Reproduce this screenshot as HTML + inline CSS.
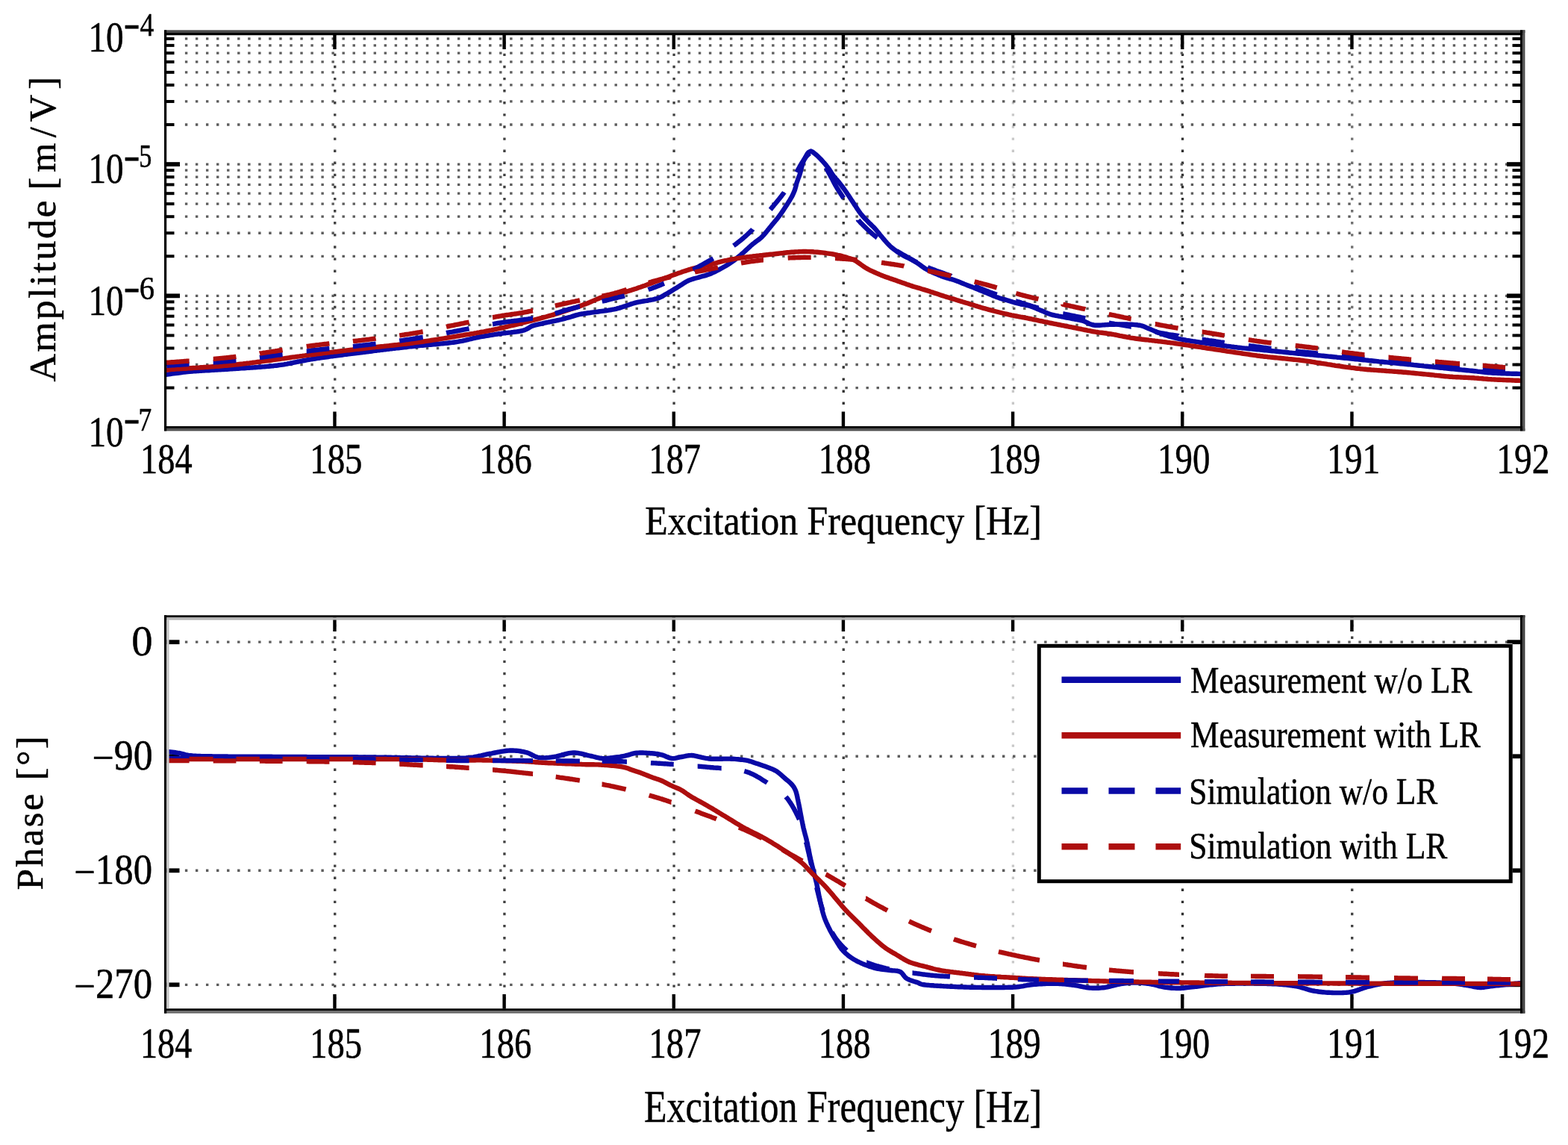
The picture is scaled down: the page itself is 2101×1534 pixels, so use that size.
<!DOCTYPE html><html><head><meta charset="utf-8"><title>Frequency response</title><style>html,body{margin:0;padding:0;background:#fff;width:2101px;height:1534px;overflow:hidden}body{position:relative}text{stroke:#000;stroke-width:0.5px;stroke-linejoin:round}</style></head><body><svg width="2101" height="1534" viewBox="0 0 2101 1534" style="position:absolute;left:0;top:0">
<defs>
<clipPath id="cTop"><rect x="222.8" y="45.8" width="1815.3" height="526.8"/></clipPath>
<clipPath id="cBot"><rect x="222.8" y="827.8" width="1815.3" height="524.9"/></clipPath>
</defs>
<rect x="0" y="0" width="2101" height="1534" fill="#fff"/>
<g>
<line x1="448.76" y1="55.6" x2="448.76" y2="569.6" stroke="#404040" stroke-width="3.3" stroke-dasharray="3.4 12.70"/>
<line x1="448.76" y1="836.4" x2="448.76" y2="1349.7" stroke="#404040" stroke-width="3.3" stroke-dasharray="3.4 12.70"/>
<line x1="675.92" y1="55.6" x2="675.92" y2="569.6" stroke="#404040" stroke-width="3.3" stroke-dasharray="3.4 12.70"/>
<line x1="675.92" y1="836.4" x2="675.92" y2="1349.7" stroke="#404040" stroke-width="3.3" stroke-dasharray="3.4 12.70"/>
<line x1="903.08" y1="55.6" x2="903.08" y2="569.6" stroke="#404040" stroke-width="3.3" stroke-dasharray="3.4 12.70"/>
<line x1="903.08" y1="836.4" x2="903.08" y2="1349.7" stroke="#404040" stroke-width="3.3" stroke-dasharray="3.4 12.70"/>
<line x1="1130.24" y1="55.6" x2="1130.24" y2="569.6" stroke="#303030" stroke-width="3.3" stroke-dasharray="3.4 12.70"/>
<line x1="1130.24" y1="836.4" x2="1130.24" y2="1349.7" stroke="#404040" stroke-width="3.3" stroke-dasharray="3.4 12.70"/>
<line x1="1357.40" y1="55.6" x2="1357.40" y2="569.6" stroke="#c8c8c8" stroke-width="3.3" stroke-dasharray="3.4 12.70"/>
<line x1="1357.40" y1="836.4" x2="1357.40" y2="1349.7" stroke="#c8c8c8" stroke-width="3.3" stroke-dasharray="3.4 12.70"/>
<line x1="1584.56" y1="55.6" x2="1584.56" y2="569.6" stroke="#303030" stroke-width="3.3" stroke-dasharray="3.4 12.70"/>
<line x1="1584.56" y1="836.4" x2="1584.56" y2="1349.7" stroke="#303030" stroke-width="3.3" stroke-dasharray="3.4 12.70"/>
<line x1="1811.72" y1="55.6" x2="1811.72" y2="569.6" stroke="#707070" stroke-width="3.3" stroke-dasharray="3.4 12.70"/>
<line x1="1811.72" y1="836.4" x2="1811.72" y2="1349.7" stroke="#404040" stroke-width="3.3" stroke-dasharray="3.4 12.70"/>
<line x1="247.9" y1="519.55" x2="2035.6" y2="519.55" stroke="#5c5c5c" stroke-width="3.3" stroke-dasharray="3.4 10.64"/>
<line x1="247.9" y1="488.51" x2="2035.6" y2="488.51" stroke="#5c5c5c" stroke-width="3.3" stroke-dasharray="3.4 10.64"/>
<line x1="247.9" y1="466.48" x2="2035.6" y2="466.48" stroke="#5c5c5c" stroke-width="3.3" stroke-dasharray="3.4 10.64"/>
<line x1="247.9" y1="449.40" x2="2035.6" y2="449.40" stroke="#5c5c5c" stroke-width="3.3" stroke-dasharray="3.4 10.64"/>
<line x1="247.9" y1="435.45" x2="2035.6" y2="435.45" stroke="#5c5c5c" stroke-width="3.3" stroke-dasharray="3.4 10.64"/>
<line x1="247.9" y1="423.64" x2="2035.6" y2="423.64" stroke="#5c5c5c" stroke-width="3.3" stroke-dasharray="3.4 10.64"/>
<line x1="247.9" y1="413.42" x2="2035.6" y2="413.42" stroke="#5c5c5c" stroke-width="3.3" stroke-dasharray="3.4 10.64"/>
<line x1="247.9" y1="404.41" x2="2035.6" y2="404.41" stroke="#5c5c5c" stroke-width="3.3" stroke-dasharray="3.4 10.64"/>
<line x1="247.9" y1="396.34" x2="2035.6" y2="396.34" stroke="#5c5c5c" stroke-width="3.3" stroke-dasharray="3.4 10.64"/>
<line x1="247.9" y1="343.28" x2="2035.6" y2="343.28" stroke="#5c5c5c" stroke-width="3.3" stroke-dasharray="3.4 10.64"/>
<line x1="247.9" y1="312.24" x2="2035.6" y2="312.24" stroke="#5c5c5c" stroke-width="3.3" stroke-dasharray="3.4 10.64"/>
<line x1="247.9" y1="290.21" x2="2035.6" y2="290.21" stroke="#5c5c5c" stroke-width="3.3" stroke-dasharray="3.4 10.64"/>
<line x1="247.9" y1="273.13" x2="2035.6" y2="273.13" stroke="#5c5c5c" stroke-width="3.3" stroke-dasharray="3.4 10.64"/>
<line x1="247.9" y1="259.18" x2="2035.6" y2="259.18" stroke="#5c5c5c" stroke-width="3.3" stroke-dasharray="3.4 10.64"/>
<line x1="247.9" y1="247.37" x2="2035.6" y2="247.37" stroke="#5c5c5c" stroke-width="3.3" stroke-dasharray="3.4 10.64"/>
<line x1="247.9" y1="237.15" x2="2035.6" y2="237.15" stroke="#5c5c5c" stroke-width="3.3" stroke-dasharray="3.4 10.64"/>
<line x1="247.9" y1="228.14" x2="2035.6" y2="228.14" stroke="#5c5c5c" stroke-width="3.3" stroke-dasharray="3.4 10.64"/>
<line x1="247.9" y1="220.07" x2="2035.6" y2="220.07" stroke="#5c5c5c" stroke-width="3.3" stroke-dasharray="3.4 10.64"/>
<line x1="247.9" y1="167.01" x2="2035.6" y2="167.01" stroke="#5c5c5c" stroke-width="3.3" stroke-dasharray="3.4 10.64"/>
<line x1="247.9" y1="135.97" x2="2035.6" y2="135.97" stroke="#5c5c5c" stroke-width="3.3" stroke-dasharray="3.4 10.64"/>
<line x1="247.9" y1="113.94" x2="2035.6" y2="113.94" stroke="#5c5c5c" stroke-width="3.3" stroke-dasharray="3.4 10.64"/>
<line x1="247.9" y1="96.86" x2="2035.6" y2="96.86" stroke="#5c5c5c" stroke-width="3.3" stroke-dasharray="3.4 10.64"/>
<line x1="247.9" y1="82.91" x2="2035.6" y2="82.91" stroke="#5c5c5c" stroke-width="3.3" stroke-dasharray="3.4 10.64"/>
<line x1="247.9" y1="71.10" x2="2035.6" y2="71.10" stroke="#5c5c5c" stroke-width="3.3" stroke-dasharray="3.4 10.64"/>
<line x1="247.9" y1="60.88" x2="2035.6" y2="60.88" stroke="#5c5c5c" stroke-width="3.3" stroke-dasharray="3.4 10.64"/>
<line x1="247.9" y1="51.87" x2="2035.6" y2="51.87" stroke="#5c5c5c" stroke-width="3.3" stroke-dasharray="3.4 10.64"/>
<line x1="247.9" y1="860.20" x2="2035.6" y2="860.20" stroke="#5c5c5c" stroke-width="3.3" stroke-dasharray="3.4 10.64"/>
<line x1="247.9" y1="1013.24" x2="2035.6" y2="1013.24" stroke="#5c5c5c" stroke-width="3.3" stroke-dasharray="3.4 10.64"/>
<line x1="247.9" y1="1166.27" x2="2035.6" y2="1166.27" stroke="#5c5c5c" stroke-width="3.3" stroke-dasharray="3.4 10.64"/>
<line x1="247.9" y1="1319.31" x2="2035.6" y2="1319.31" stroke="#5c5c5c" stroke-width="3.3" stroke-dasharray="3.4 10.64"/>
</g>
<rect x="446.26" y="551.50" width="4.40" height="20.00" fill="#000"/>
<rect x="446.26" y="47.00" width="4.40" height="19.00" fill="#000"/>
<rect x="446.26" y="1332.00" width="4.40" height="19.50" fill="#000"/>
<rect x="446.26" y="827.00" width="4.40" height="19.00" fill="#000"/>
<rect x="673.42" y="551.50" width="4.40" height="20.00" fill="#000"/>
<rect x="673.42" y="47.00" width="4.40" height="19.00" fill="#000"/>
<rect x="673.42" y="1332.00" width="4.40" height="19.50" fill="#000"/>
<rect x="673.42" y="827.00" width="4.40" height="19.00" fill="#000"/>
<rect x="900.58" y="551.50" width="4.40" height="20.00" fill="#000"/>
<rect x="900.58" y="47.00" width="4.40" height="19.00" fill="#000"/>
<rect x="900.58" y="1332.00" width="4.40" height="19.50" fill="#000"/>
<rect x="900.58" y="827.00" width="4.40" height="19.00" fill="#000"/>
<rect x="1127.74" y="551.50" width="4.40" height="20.00" fill="#000"/>
<rect x="1127.74" y="47.00" width="4.40" height="19.00" fill="#000"/>
<rect x="1127.74" y="1332.00" width="4.40" height="19.50" fill="#000"/>
<rect x="1127.74" y="827.00" width="4.40" height="19.00" fill="#000"/>
<rect x="1354.90" y="551.50" width="4.40" height="20.00" fill="#000"/>
<rect x="1354.90" y="47.00" width="4.40" height="19.00" fill="#000"/>
<rect x="1354.90" y="1332.00" width="4.40" height="19.50" fill="#000"/>
<rect x="1354.90" y="827.00" width="4.40" height="19.00" fill="#000"/>
<rect x="1582.06" y="551.50" width="4.40" height="20.00" fill="#000"/>
<rect x="1582.06" y="47.00" width="4.40" height="19.00" fill="#000"/>
<rect x="1582.06" y="1332.00" width="4.40" height="19.50" fill="#000"/>
<rect x="1582.06" y="827.00" width="4.40" height="19.00" fill="#000"/>
<rect x="1809.22" y="551.50" width="4.40" height="20.00" fill="#000"/>
<rect x="1809.22" y="47.00" width="4.40" height="19.00" fill="#000"/>
<rect x="1809.22" y="1332.00" width="4.40" height="19.50" fill="#000"/>
<rect x="1809.22" y="827.00" width="4.40" height="19.00" fill="#000"/>
<rect x="223.00" y="517.55" width="10.50" height="4.00" fill="#000"/>
<rect x="2026.50" y="517.55" width="10.50" height="4.00" fill="#000"/>
<rect x="223.00" y="486.51" width="10.50" height="4.00" fill="#000"/>
<rect x="2026.50" y="486.51" width="10.50" height="4.00" fill="#000"/>
<rect x="223.00" y="464.48" width="10.50" height="4.00" fill="#000"/>
<rect x="2026.50" y="464.48" width="10.50" height="4.00" fill="#000"/>
<rect x="223.00" y="447.40" width="10.50" height="4.00" fill="#000"/>
<rect x="2026.50" y="447.40" width="10.50" height="4.00" fill="#000"/>
<rect x="223.00" y="433.45" width="10.50" height="4.00" fill="#000"/>
<rect x="2026.50" y="433.45" width="10.50" height="4.00" fill="#000"/>
<rect x="223.00" y="421.64" width="10.50" height="4.00" fill="#000"/>
<rect x="2026.50" y="421.64" width="10.50" height="4.00" fill="#000"/>
<rect x="223.00" y="411.42" width="10.50" height="4.00" fill="#000"/>
<rect x="2026.50" y="411.42" width="10.50" height="4.00" fill="#000"/>
<rect x="223.00" y="402.41" width="10.50" height="4.00" fill="#000"/>
<rect x="2026.50" y="402.41" width="10.50" height="4.00" fill="#000"/>
<rect x="223.00" y="393.44" width="18.00" height="5.80" fill="#000"/>
<rect x="2019.00" y="393.44" width="18.00" height="5.80" fill="#000"/>
<rect x="223.00" y="341.28" width="10.50" height="4.00" fill="#000"/>
<rect x="2026.50" y="341.28" width="10.50" height="4.00" fill="#000"/>
<rect x="223.00" y="310.24" width="10.50" height="4.00" fill="#000"/>
<rect x="2026.50" y="310.24" width="10.50" height="4.00" fill="#000"/>
<rect x="223.00" y="288.21" width="10.50" height="4.00" fill="#000"/>
<rect x="2026.50" y="288.21" width="10.50" height="4.00" fill="#000"/>
<rect x="223.00" y="271.13" width="10.50" height="4.00" fill="#000"/>
<rect x="2026.50" y="271.13" width="10.50" height="4.00" fill="#000"/>
<rect x="223.00" y="257.18" width="10.50" height="4.00" fill="#000"/>
<rect x="2026.50" y="257.18" width="10.50" height="4.00" fill="#000"/>
<rect x="223.00" y="245.37" width="10.50" height="4.00" fill="#000"/>
<rect x="2026.50" y="245.37" width="10.50" height="4.00" fill="#000"/>
<rect x="223.00" y="235.15" width="10.50" height="4.00" fill="#000"/>
<rect x="2026.50" y="235.15" width="10.50" height="4.00" fill="#000"/>
<rect x="223.00" y="226.14" width="10.50" height="4.00" fill="#000"/>
<rect x="2026.50" y="226.14" width="10.50" height="4.00" fill="#000"/>
<rect x="223.00" y="217.17" width="18.00" height="5.80" fill="#000"/>
<rect x="2019.00" y="217.17" width="18.00" height="5.80" fill="#000"/>
<rect x="223.00" y="165.01" width="10.50" height="4.00" fill="#000"/>
<rect x="2026.50" y="165.01" width="10.50" height="4.00" fill="#000"/>
<rect x="223.00" y="133.97" width="10.50" height="4.00" fill="#000"/>
<rect x="2026.50" y="133.97" width="10.50" height="4.00" fill="#000"/>
<rect x="223.00" y="111.94" width="10.50" height="4.00" fill="#000"/>
<rect x="2026.50" y="111.94" width="10.50" height="4.00" fill="#000"/>
<rect x="223.00" y="94.86" width="10.50" height="4.00" fill="#000"/>
<rect x="2026.50" y="94.86" width="10.50" height="4.00" fill="#000"/>
<rect x="223.00" y="80.91" width="10.50" height="4.00" fill="#000"/>
<rect x="2026.50" y="80.91" width="10.50" height="4.00" fill="#000"/>
<rect x="223.00" y="69.10" width="10.50" height="4.00" fill="#000"/>
<rect x="2026.50" y="69.10" width="10.50" height="4.00" fill="#000"/>
<rect x="223.00" y="58.88" width="10.50" height="4.00" fill="#000"/>
<rect x="2026.50" y="58.88" width="10.50" height="4.00" fill="#000"/>
<rect x="223.00" y="49.87" width="10.50" height="4.00" fill="#000"/>
<rect x="2026.50" y="49.87" width="10.50" height="4.00" fill="#000"/>
<rect x="223.00" y="857.30" width="17.50" height="5.80" fill="#000"/>
<rect x="2019.50" y="857.30" width="17.50" height="5.80" fill="#000"/>
<rect x="223.00" y="1010.34" width="17.50" height="5.80" fill="#000"/>
<rect x="2019.50" y="1010.34" width="17.50" height="5.80" fill="#000"/>
<rect x="223.00" y="1163.37" width="17.50" height="5.80" fill="#000"/>
<rect x="2019.50" y="1163.37" width="17.50" height="5.80" fill="#000"/>
<rect x="223.00" y="1316.41" width="17.50" height="5.80" fill="#000"/>
<rect x="2019.50" y="1316.41" width="17.50" height="5.80" fill="#000"/>
<polyline points="221.3,502.0 222.6,501.8 224.2,501.6 226.2,501.3 228.4,501.0 230.7,500.7 233.1,500.4 235.5,500.1 237.9,499.8 240.0,499.5 241.8,499.3 243.3,499.1 244.6,498.9 245.9,498.7 247.4,498.5 249.1,498.3 251.4,498.0 254.3,497.8 258.0,497.5 259.4,497.4 260.9,497.3 262.4,497.2 264.1,497.1 265.8,497.0 267.6,496.9 269.5,496.8 271.4,496.6 273.4,496.5 275.5,496.4 277.6,496.3 279.7,496.2 281.9,496.0 284.1,495.9 286.3,495.8 288.5,495.6 290.8,495.5 293.0,495.4 295.3,495.3 297.6,495.1 299.8,495.0 302.1,494.8 304.3,494.7 306.5,494.6 308.7,494.4 310.8,494.3 312.9,494.1 315.0,494.0 317.0,493.9 319.1,493.7 321.2,493.6 323.2,493.4 325.3,493.3 327.4,493.2 329.5,493.0 331.6,492.9 333.7,492.8 335.8,492.6 337.9,492.5 340.0,492.4 342.0,492.2 344.1,492.1 346.2,491.9 348.3,491.8 350.3,491.6 352.4,491.4 354.4,491.3 356.4,491.1 358.5,490.9 360.4,490.7 362.4,490.6 364.4,490.4 366.3,490.2 368.2,489.9 370.1,489.7 372.0,489.5 374.2,489.2 376.4,488.9 378.5,488.6 380.5,488.3 382.5,487.9 384.5,487.6 386.4,487.2 388.3,486.9 390.2,486.5 392.1,486.1 393.9,485.7 395.8,485.3 397.7,484.9 399.6,484.5 401.6,484.2 403.5,483.8 405.6,483.4 407.6,483.0 409.8,482.6 412.0,482.2 414.2,481.8 416.6,481.4 419.0,481.0 420.7,480.7 422.5,480.5 424.3,480.2 426.2,479.9 428.1,479.7 430.0,479.4 431.9,479.1 433.9,478.8 435.8,478.6 437.8,478.3 439.9,478.0 441.9,477.7 443.9,477.4 446.0,477.2 448.1,476.9 450.2,476.6 452.3,476.3 454.4,476.1 456.5,475.8 458.7,475.5 460.8,475.2 462.9,474.9 465.1,474.7 467.2,474.4 469.3,474.1 471.4,473.9 473.5,473.6 475.7,473.3 477.7,473.0 479.8,472.8 481.9,472.5 484.0,472.3 486.0,472.0 488.0,471.7 490.1,471.5 492.1,471.2 494.2,471.0 496.3,470.7 498.3,470.5 500.4,470.2 502.5,469.9 504.6,469.7 506.7,469.4 508.7,469.2 510.8,468.9 512.9,468.7 515.0,468.4 517.1,468.2 519.2,467.9 521.2,467.7 523.3,467.4 525.3,467.2 527.4,466.9 529.4,466.7 531.5,466.4 533.5,466.2 535.5,466.0 537.5,465.7 539.5,465.5 541.5,465.3 543.4,465.1 545.4,464.8 547.3,464.6 549.2,464.4 551.1,464.2 553.0,464.0 555.2,463.8 557.4,463.5 559.6,463.3 561.8,463.1 564.0,462.9 566.2,462.7 568.4,462.5 570.5,462.3 572.7,462.1 574.8,461.9 577.0,461.7 579.1,461.5 581.2,461.3 583.2,461.2 585.3,461.0 587.3,460.8 589.3,460.6 591.3,460.4 593.2,460.3 595.1,460.1 597.0,459.9 598.9,459.7 600.7,459.5 602.4,459.3 604.1,459.1 605.8,458.9 607.4,458.7 609.0,458.5 611.8,458.1 614.4,457.7 616.9,457.2 619.2,456.8 621.3,456.3 623.4,455.9 625.4,455.4 627.3,455.0 629.1,454.5 630.9,454.1 632.7,453.6 634.5,453.2 636.3,452.8 638.1,452.4 640.0,452.0 642.2,451.6 644.3,451.2 646.4,450.8 648.4,450.5 650.4,450.1 652.4,449.8 654.4,449.5 656.4,449.1 658.4,448.8 660.4,448.5 662.6,448.2 664.7,447.8 667.0,447.5 668.9,447.2 671.0,447.0 673.1,446.7 675.3,446.4 677.5,446.2 679.8,445.9 682.0,445.6 684.3,445.4 686.6,445.1 688.8,444.8 690.9,444.6 692.9,444.3 694.9,444.0 696.7,443.7 698.4,443.3 700.0,443.0 703.0,442.2 705.2,441.2 707.1,440.2 708.6,439.3 710.2,438.3 711.9,437.3 714.0,436.5 715.9,435.9 717.9,435.3 720.0,434.8 722.2,434.3 724.4,433.8 726.6,433.4 728.8,432.9 730.9,432.4 733.0,432.0 735.2,431.5 737.4,431.1 739.6,430.6 741.8,430.2 743.9,429.8 745.9,429.4 748.0,429.0 750.0,428.5 752.2,428.0 754.4,427.4 756.6,426.8 758.7,426.2 760.8,425.7 762.9,425.1 765.0,424.5 766.9,423.9 768.5,423.4 770.0,422.9 771.6,422.4 773.7,421.8 776.4,421.2 780.0,420.5 781.5,420.3 783.1,420.0 784.8,419.8 786.6,419.5 788.6,419.2 790.6,419.0 792.8,418.7 795.0,418.4 797.2,418.1 799.5,417.8 801.8,417.5 804.1,417.2 806.4,416.9 808.6,416.6 810.9,416.3 813.1,416.0 815.2,415.7 817.3,415.3 819.3,415.0 821.1,414.6 822.9,414.3 825.4,413.8 827.7,413.2 830.0,412.6 832.1,411.9 834.1,411.3 836.1,410.6 838.0,410.0 839.9,409.3 841.8,408.7 843.7,408.0 845.5,407.4 847.4,406.8 849.4,406.2 851.4,405.7 853.5,405.2 855.6,404.7 857.8,404.3 860.0,403.9 862.2,403.5 864.4,403.1 866.6,402.8 868.7,402.4 870.8,402.0 872.9,401.6 874.8,401.3 876.7,400.9 878.4,400.4 880.0,400.0 882.8,399.1 885.1,398.1 887.1,397.1 888.9,396.1 890.6,395.1 892.4,394.0 894.3,392.9 896.1,391.9 897.9,390.9 899.7,389.8 901.4,388.7 903.2,387.6 905.0,386.5 906.8,385.4 908.6,384.3 910.4,383.2 912.2,382.0 914.0,380.9 915.8,379.7 917.6,378.6 919.3,377.5 921.1,376.6 922.9,375.7 924.9,374.9 926.9,374.2 928.9,373.6 930.9,373.0 933.0,372.5 935.0,372.0 937.0,371.4 939.0,370.8 941.1,370.2 943.2,369.7 945.2,369.1 947.3,368.4 949.3,367.8 951.4,367.0 953.4,366.2 955.5,365.2 957.5,364.3 959.6,363.2 961.6,362.2 963.7,361.1 965.7,360.0 967.5,359.0 969.3,358.0 971.1,357.0 972.9,356.0 974.6,354.9 976.4,353.8 978.2,352.6 980.0,351.4 981.6,350.3 983.2,349.1 984.8,347.9 986.4,346.6 987.9,345.3 989.5,344.0 991.1,342.7 992.7,341.4 994.3,340.0 995.9,338.6 997.5,337.2 999.1,335.7 1000.7,334.2 1002.4,332.7 1004.0,331.2 1005.5,329.7 1007.1,328.3 1008.6,327.0 1010.3,325.7 1011.9,324.4 1013.4,323.3 1015.0,322.2 1016.5,321.1 1018.1,319.9 1019.6,318.6 1021.2,317.1 1022.6,315.6 1024.1,314.0 1025.6,312.2 1027.1,310.4 1028.5,308.6 1030.0,306.8 1031.4,305.0 1032.7,303.4 1033.9,301.9 1035.6,299.9 1037.0,298.2 1038.4,296.6 1039.7,295.0 1041.0,293.4 1042.4,291.7 1043.6,290.1 1044.8,288.5 1046.0,286.8 1047.2,285.1 1048.4,283.4 1049.6,281.6 1050.8,279.8 1052.0,277.9 1053.3,276.0 1054.6,274.0 1055.9,271.9 1057.1,270.0 1058.3,268.1 1059.3,266.3 1060.6,264.1 1061.7,262.1 1062.6,260.1 1063.5,258.2 1064.4,256.1 1065.1,254.2 1065.6,252.3 1066.2,250.3 1066.7,248.2 1067.2,246.2 1067.8,244.2 1068.5,242.2 1069.2,240.2 1069.9,238.2 1070.7,236.2 1071.4,234.3 1072.0,232.4 1072.6,230.2 1073.1,228.2 1073.6,226.1 1074.1,224.2 1074.6,222.2 1075.4,219.8 1076.1,217.4 1077.0,215.1 1078.0,212.9 1079.2,210.6 1080.5,208.2 1081.8,206.0 1083.0,204.4 1086.4,202.5 1087.8,203.1 1089.5,204.1 1091.3,205.5 1093.2,207.0 1094.8,208.4 1096.5,210.0 1098.2,211.7 1100.0,213.5 1101.7,215.4 1103.1,217.0 1104.6,218.7 1106.1,220.4 1107.5,222.1 1108.9,223.9 1110.2,225.6 1111.4,227.4 1112.6,229.2 1113.7,231.0 1114.8,232.7 1115.9,234.4 1117.0,236.0 1118.6,238.0 1120.1,239.6 1121.7,241.3 1123.6,243.5 1124.7,244.9 1125.8,246.3 1127.0,247.9 1128.2,249.5 1129.5,251.3 1130.8,253.0 1132.1,254.8 1133.3,256.5 1134.5,258.3 1135.7,260.1 1137.0,261.9 1138.2,263.8 1139.4,265.6 1140.6,267.5 1141.9,269.4 1143.1,271.2 1144.3,273.1 1145.5,274.9 1146.8,276.8 1148.0,278.7 1149.2,280.6 1150.5,282.4 1151.7,284.2 1152.9,285.8 1154.3,287.6 1155.7,289.2 1157.1,290.7 1158.5,292.2 1159.9,293.7 1161.3,295.1 1162.7,296.6 1164.3,298.3 1166.0,299.9 1167.6,301.4 1169.2,303.0 1170.9,304.6 1172.5,306.4 1173.9,308.0 1175.3,309.7 1176.8,311.5 1178.2,313.3 1179.6,315.1 1181.1,316.8 1182.5,318.5 1183.9,320.2 1185.3,321.8 1186.8,323.5 1188.2,325.1 1189.6,326.6 1191.0,328.1 1192.4,329.5 1194.0,331.0 1195.6,332.3 1197.2,333.6 1198.8,334.7 1200.4,335.9 1202.0,337.0 1203.9,338.3 1205.8,339.5 1207.6,340.7 1209.5,341.8 1211.4,342.9 1213.3,343.9 1215.2,344.8 1217.2,345.7 1219.1,346.6 1221.0,347.6 1222.9,348.7 1224.8,349.8 1226.7,350.9 1228.6,352.1 1230.5,353.3 1232.4,354.6 1234.2,356.0 1236.1,357.3 1238.0,358.7 1240.0,360.0 1241.8,361.0 1243.6,362.0 1245.4,362.9 1247.3,363.8 1249.3,364.8 1251.4,365.7 1253.3,366.5 1255.3,367.4 1257.3,368.2 1259.4,369.1 1261.5,369.9 1263.6,370.7 1265.7,371.4 1267.7,372.1 1269.8,372.7 1271.8,373.3 1273.9,373.8 1275.9,374.4 1278.0,375.0 1280.0,375.7 1282.0,376.4 1284.1,377.2 1286.1,378.1 1288.2,378.9 1290.2,379.7 1292.3,380.6 1294.3,381.4 1296.3,382.2 1298.4,383.0 1300.4,383.8 1302.5,384.6 1304.5,385.4 1306.6,386.2 1308.6,387.0 1310.6,387.8 1312.7,388.7 1314.7,389.5 1316.8,390.4 1318.8,391.2 1320.9,392.1 1322.9,392.9 1324.9,393.7 1326.9,394.6 1328.9,395.4 1330.9,396.3 1333.0,397.1 1335.0,397.9 1337.0,398.6 1339.0,399.3 1341.1,399.9 1343.2,400.6 1345.2,401.1 1347.3,401.7 1349.3,402.3 1351.4,402.9 1353.4,403.5 1355.5,404.1 1357.5,404.7 1359.6,405.3 1361.6,405.9 1363.7,406.5 1365.7,407.0 1367.7,407.5 1369.8,407.9 1371.8,408.2 1373.9,408.6 1375.9,409.0 1378.0,409.4 1380.0,410.0 1382.0,410.7 1384.1,411.4 1386.1,412.3 1388.2,413.1 1390.2,414.0 1392.3,414.9 1394.3,415.7 1396.3,416.5 1398.4,417.4 1400.4,418.3 1402.5,419.2 1404.5,420.0 1406.6,420.7 1408.6,421.4 1410.6,422.0 1412.7,422.4 1414.7,422.8 1416.8,423.2 1418.8,423.6 1420.9,423.9 1422.9,424.3 1424.9,424.7 1426.9,425.1 1428.9,425.5 1430.9,425.8 1433.0,426.2 1435.0,426.6 1437.0,427.0 1439.0,427.4 1441.1,427.8 1443.2,428.1 1445.2,428.5 1447.3,429.0 1449.3,429.4 1451.4,430.0 1453.4,430.7 1455.2,431.6 1457.1,432.5 1459.0,433.4 1461.0,434.3 1463.2,435.0 1465.7,435.5 1467.5,435.7 1469.4,435.7 1471.4,435.7 1473.5,435.7 1475.6,435.6 1477.8,435.4 1480.0,435.3 1482.2,435.1 1484.4,435.0 1486.5,434.9 1488.6,434.8 1490.8,434.7 1493.0,434.7 1495.2,434.6 1497.4,434.6 1499.6,434.5 1501.8,434.5 1503.9,434.4 1506.0,434.4 1508.0,434.5 1510.0,434.5 1512.2,434.6 1514.4,434.7 1516.5,434.8 1518.6,434.9 1520.7,435.1 1522.7,435.2 1524.6,435.5 1526.3,435.7 1528.0,436.0 1530.4,436.6 1532.3,437.2 1533.9,437.9 1535.9,438.9 1538.6,440.0 1540.1,440.6 1541.8,441.3 1543.7,442.1 1545.6,442.9 1547.6,443.8 1549.7,444.6 1551.8,445.5 1553.9,446.3 1556.0,447.2 1558.0,447.9 1560.0,448.6 1561.9,449.2 1563.9,449.8 1565.8,450.4 1567.8,451.0 1569.7,451.5 1571.7,452.0 1573.6,452.5 1575.6,453.0 1577.5,453.4 1579.5,453.9 1581.4,454.3 1583.5,454.7 1585.6,455.1 1587.6,455.5 1589.7,455.9 1591.7,456.2 1593.8,456.5 1595.9,456.8 1598.2,457.2 1600.5,457.5 1602.9,457.9 1604.7,458.2 1606.6,458.5 1608.5,458.8 1610.5,459.0 1612.6,459.3 1614.6,459.6 1616.7,459.9 1618.8,460.2 1620.9,460.5 1623.0,460.8 1625.2,461.1 1627.3,461.4 1629.3,461.7 1631.4,462.0 1633.4,462.3 1635.5,462.6 1637.5,462.8 1639.6,463.1 1641.6,463.4 1643.7,463.7 1645.7,463.9 1647.7,464.2 1649.8,464.5 1651.8,464.7 1653.9,465.0 1655.9,465.2 1658.0,465.5 1660.0,465.7 1662.0,465.9 1664.1,466.2 1666.1,466.4 1668.2,466.6 1670.2,466.8 1672.3,467.0 1674.3,467.2 1676.4,467.4 1678.4,467.6 1680.4,467.8 1682.5,468.0 1684.5,468.2 1686.6,468.4 1688.6,468.6 1690.6,468.8 1692.7,469.0 1694.7,469.2 1696.7,469.4 1698.7,469.6 1700.8,469.8 1702.8,470.0 1704.8,470.2 1706.8,470.4 1708.9,470.6 1710.9,470.8 1712.9,471.0 1715.0,471.2 1717.0,471.4 1719.1,471.6 1721.1,471.8 1723.2,472.0 1725.3,472.2 1727.4,472.5 1729.6,472.7 1731.7,472.9 1733.8,473.1 1735.8,473.3 1737.9,473.5 1739.9,473.7 1741.9,473.9 1743.8,474.1 1745.7,474.3 1748.0,474.5 1750.2,474.7 1752.3,474.9 1754.3,475.1 1756.3,475.3 1758.3,475.4 1760.3,475.6 1762.4,475.8 1764.5,476.0 1766.7,476.2 1769.0,476.4 1770.9,476.6 1772.8,476.8 1774.8,477.0 1776.9,477.2 1778.9,477.4 1781.0,477.6 1783.1,477.8 1785.3,478.0 1787.4,478.2 1789.5,478.4 1791.7,478.7 1793.8,478.9 1795.9,479.1 1798.0,479.3 1800.1,479.5 1802.1,479.7 1804.2,479.9 1806.3,480.1 1808.4,480.3 1810.4,480.5 1812.5,480.7 1814.6,481.0 1816.6,481.2 1818.7,481.4 1820.8,481.6 1822.9,481.8 1824.9,482.0 1827.0,482.2 1829.1,482.4 1831.1,482.6 1833.2,482.8 1835.3,483.1 1837.4,483.3 1839.4,483.5 1841.5,483.7 1843.6,483.9 1845.6,484.1 1847.7,484.4 1849.8,484.6 1851.9,484.8 1853.9,485.0 1856.0,485.2 1858.1,485.4 1860.1,485.6 1862.2,485.8 1864.3,486.0 1866.4,486.2 1868.4,486.4 1870.5,486.6 1872.6,486.8 1874.6,487.0 1876.7,487.2 1878.8,487.4 1880.9,487.6 1882.9,487.8 1885.0,488.0 1887.1,488.2 1889.1,488.4 1891.2,488.6 1893.3,488.8 1895.4,489.1 1897.4,489.3 1899.5,489.5 1901.6,489.7 1903.6,489.9 1905.7,490.1 1907.8,490.4 1909.9,490.6 1911.9,490.8 1914.0,491.0 1916.1,491.2 1918.1,491.4 1920.2,491.6 1922.3,491.9 1924.4,492.1 1926.4,492.3 1928.5,492.5 1930.6,492.7 1932.6,492.9 1934.7,493.2 1936.8,493.4 1938.9,493.6 1940.9,493.8 1943.0,494.0 1945.1,494.2 1947.1,494.4 1949.2,494.6 1951.3,494.8 1953.4,495.0 1955.4,495.2 1957.5,495.4 1959.6,495.6 1961.6,495.8 1963.7,496.0 1965.8,496.2 1967.9,496.4 1969.9,496.6 1972.0,496.8 1974.1,497.0 1976.1,497.2 1978.1,497.4 1980.0,497.7 1982.0,497.9 1984.0,498.1 1986.0,498.3 1988.0,498.6 1990.0,498.8 1992.1,499.0 1994.2,499.2 1996.4,499.4 1998.7,499.5 2001.0,499.7 2002.9,499.8 2005.0,499.9 2007.2,500.0 2009.5,500.1 2011.9,500.2 2014.3,500.3 2016.7,500.4 2019.2,500.5 2021.6,500.5 2024.0,500.6 2026.3,500.7 2028.5,500.7 2030.6,500.8 2032.6,500.8 2034.4,500.9 2036.0,500.9 2037.4,501.0 2038.6,501.0" fill="none" stroke="#0a0aa6" stroke-width="6.4" stroke-linejoin="round" stroke-linecap="butt" clip-path="url(#cTop)"/>
<polyline points="221.3,496.5 220.4,496.3 220.3,495.9 229.0,495.0 230.1,494.9 231.3,494.8 232.6,494.7 233.9,494.6 235.3,494.5 236.8,494.4 238.3,494.3 239.9,494.2 241.6,494.1 243.3,494.0 245.0,493.9 246.8,493.8 248.7,493.7 250.6,493.5 252.5,493.4 254.5,493.3 256.5,493.2 258.5,493.0 260.6,492.9 262.7,492.8 264.9,492.6 267.1,492.5 269.3,492.3 271.5,492.2 273.7,492.0 276.0,491.9 278.3,491.7 280.6,491.6 282.9,491.4 285.2,491.2 287.5,491.0 289.8,490.9 292.1,490.7 294.5,490.5 296.8,490.3 299.1,490.1 301.4,489.9 303.7,489.7 306.0,489.5 308.3,489.3 310.5,489.1 312.8,488.8 315.0,488.6 316.8,488.4 318.7,488.2 320.6,488.0 322.5,487.8 324.4,487.6 326.4,487.3 328.4,487.1 330.4,486.8 332.4,486.6 334.4,486.4 336.5,486.1 338.5,485.8 340.6,485.6 342.7,485.3 344.8,485.0 346.9,484.8 349.0,484.5 351.1,484.2 353.2,483.9 355.4,483.6 357.5,483.4 359.6,483.1 361.8,482.8 363.9,482.5 366.1,482.2 368.2,481.9 370.3,481.6 372.4,481.3 374.6,481.0 376.7,480.7 378.8,480.4 380.9,480.2 383.0,479.9 385.0,479.6 387.1,479.3 389.1,479.0 391.2,478.7 393.2,478.4 395.2,478.2 397.2,477.9 399.1,477.6 401.1,477.4 403.0,477.1 404.9,476.9 406.7,476.6 408.6,476.4 410.4,476.1 412.2,475.9 413.9,475.7 415.6,475.4 417.3,475.2 419.0,475.0 421.6,474.7 424.1,474.4 426.5,474.1 428.9,473.8 431.2,473.5 433.4,473.2 435.6,472.9 437.8,472.7 439.9,472.4 442.0,472.1 444.1,471.9 446.1,471.7 448.1,471.4 450.0,471.2 452.0,471.0 453.9,470.7 455.8,470.5 457.6,470.3 459.5,470.1 461.3,469.9 463.2,469.6 465.0,469.4 466.9,469.2 468.7,469.0 470.6,468.8 472.4,468.6 474.3,468.3 476.2,468.1 478.1,467.9 480.0,467.7 482.0,467.5 484.0,467.2 486.0,467.0 488.0,466.8 490.1,466.5 492.1,466.3 494.2,466.1 496.3,465.8 498.3,465.6 500.4,465.4 502.5,465.2 504.6,464.9 506.7,464.7 508.7,464.5 510.8,464.3 512.9,464.1 515.0,463.8 517.1,463.6 519.2,463.4 521.2,463.2 523.3,462.9 525.3,462.7 527.4,462.5 529.4,462.3 531.5,462.1 533.5,461.8 535.5,461.6 537.5,461.4 539.5,461.1 541.5,460.9 543.4,460.7 545.4,460.5 547.3,460.2 549.2,460.0 551.1,459.7 553.0,459.5 555.2,459.2 557.3,458.9 559.5,458.6 561.6,458.4 563.6,458.1 565.7,457.8 567.7,457.5 569.7,457.2 571.7,456.9 573.7,456.6 575.7,456.3 577.7,456.0 579.6,455.7 581.6,455.4 583.5,455.1 585.4,454.8 587.4,454.5 589.3,454.2 591.2,453.9 593.2,453.6 595.1,453.3 597.1,453.0 599.0,452.7 601.0,452.3 603.0,452.0 605.0,451.7 607.0,451.3 609.0,451.0 611.0,450.7 612.9,450.3 614.9,450.0 616.8,449.7 618.8,449.4 620.7,449.1 622.7,448.7 624.6,448.4 626.6,448.1 628.5,447.8 630.5,447.4 632.5,447.1 634.4,446.8 636.4,446.4 638.4,446.1 640.3,445.7 642.3,445.4 644.3,445.0 646.3,444.6 648.3,444.3 650.4,443.9 652.4,443.5 654.4,443.1 656.5,442.7 658.6,442.3 660.7,441.8 662.8,441.4 664.9,441.0 667.0,440.5 668.8,440.1 670.7,439.7 672.6,439.3 674.5,438.8 676.5,438.4 678.4,437.9 680.4,437.5 682.4,437.0 684.4,436.5 686.4,436.0 688.4,435.6 690.5,435.1 692.5,434.6 694.6,434.1 696.6,433.6 698.6,433.0 700.7,432.5 702.7,432.0 704.8,431.5 706.8,431.0 708.8,430.5 710.8,430.0 712.8,429.4 714.7,428.9 716.7,428.4 718.6,427.9 720.5,427.4 722.4,426.9 724.2,426.4 726.1,425.9 727.8,425.4 729.6,424.9 731.3,424.5 733.0,424.0 735.3,423.3 737.6,422.7 739.9,422.0 742.1,421.4 744.3,420.7 746.5,420.1 748.7,419.4 750.8,418.8 752.8,418.1 754.9,417.5 756.9,416.8 758.8,416.2 760.8,415.5 762.7,414.9 764.6,414.3 766.4,413.7 768.2,413.1 770.0,412.5 771.7,411.9 773.5,411.3 775.1,410.7 776.8,410.1 778.4,409.6 780.0,409.0 782.4,408.1 784.7,407.3 786.9,406.4 789.0,405.6 790.9,404.7 792.8,403.9 794.6,403.1 796.3,402.4 798.1,401.6 799.8,400.9 801.5,400.2 803.2,399.5 804.9,398.8 806.7,398.2 808.6,397.6 810.6,397.0 812.7,396.5 814.7,396.0 816.7,395.5 818.7,395.1 820.8,394.7 822.8,394.4 824.8,394.0 826.8,393.6 828.9,393.3 830.9,392.8 832.9,392.4 835.0,391.9 837.0,391.4 838.9,390.9 840.8,390.3 842.7,389.7 844.6,389.2 846.5,388.5 848.5,387.9 850.4,387.3 852.3,386.7 854.2,386.0 856.1,385.3 858.0,384.7 860.0,384.0 861.9,383.3 863.8,382.7 865.7,382.0 867.6,381.3 869.5,380.6 871.4,379.9 873.3,379.2 875.2,378.5 877.1,377.8 879.1,377.1 881.0,376.4 882.9,375.7 884.8,374.9 886.7,374.2 888.6,373.5 890.5,372.8 892.4,372.1 894.3,371.4 896.2,370.7 898.1,370.0 900.0,369.3 901.9,368.6 903.8,367.9 905.7,367.2 907.7,366.5 909.6,365.8 911.5,365.2 913.4,364.5 915.3,363.8 917.2,363.2 919.1,362.6 921.0,362.0 922.9,361.4 924.9,360.8 927.0,360.2 929.0,359.7 931.0,359.2 933.1,358.6 935.1,358.1 937.1,357.6 939.2,357.2 941.2,356.7 943.3,356.2 945.3,355.7 947.3,355.3 949.4,354.8 951.4,354.3 953.4,353.8 955.5,353.3 957.5,352.8 959.6,352.3 961.6,351.7 963.7,351.2 965.7,350.7 967.7,350.2 969.8,349.7 971.8,349.2 973.9,348.8 975.9,348.3 978.0,347.9 980.0,347.5 982.0,347.1 984.1,346.8 986.1,346.4 988.1,346.1 990.1,345.8 992.1,345.6 994.1,345.3 996.1,345.0 998.2,344.8 1000.2,344.5 1002.3,344.3 1004.4,344.0 1006.5,343.8 1008.6,343.5 1010.6,343.2 1012.7,343.0 1014.9,342.7 1017.1,342.5 1019.3,342.2 1021.6,342.0 1023.8,341.7 1026.0,341.5 1028.2,341.3 1030.3,341.0 1032.4,340.8 1034.5,340.6 1036.4,340.4 1038.3,340.2 1040.0,340.0 1042.7,339.7 1045.1,339.4 1047.3,339.2 1049.3,339.0 1051.2,338.7 1053.1,338.5 1055.0,338.3 1057.0,338.2 1059.0,338.0 1061.1,337.8 1063.2,337.7 1065.3,337.5 1067.4,337.4 1069.6,337.3 1071.7,337.1 1073.8,337.1 1075.9,337.0 1078.0,337.0 1080.1,337.0 1082.2,337.1 1084.3,337.1 1086.4,337.2 1088.6,337.3 1090.7,337.5 1092.8,337.6 1094.9,337.8 1097.0,338.0 1099.1,338.2 1101.3,338.4 1103.5,338.7 1105.7,339.0 1107.9,339.3 1110.0,339.6 1112.1,339.9 1114.1,340.2 1116.0,340.5 1118.3,340.9 1120.5,341.3 1122.5,341.8 1124.5,342.2 1126.5,342.7 1128.5,343.2 1130.5,343.8 1132.6,344.4 1134.7,345.0 1136.9,345.7 1139.0,346.4 1141.1,347.1 1143.0,347.8 1144.8,348.6 1147.0,349.8 1148.9,351.1 1150.7,352.4 1152.5,353.7 1154.3,355.0 1156.0,356.2 1157.6,357.3 1159.3,358.4 1161.3,359.6 1163.8,361.0 1165.3,361.8 1167.0,362.6 1168.8,363.4 1170.7,364.3 1172.8,365.2 1174.8,366.1 1176.9,367.0 1178.9,367.9 1180.9,368.7 1182.9,369.5 1184.8,370.2 1186.7,371.0 1188.6,371.6 1190.5,372.3 1192.5,373.0 1194.4,373.6 1196.3,374.2 1198.2,374.9 1200.1,375.5 1202.0,376.2 1203.9,376.9 1205.8,377.6 1207.7,378.2 1209.6,378.9 1211.5,379.6 1213.4,380.3 1215.3,381.0 1217.2,381.6 1219.1,382.3 1221.0,382.9 1223.1,383.6 1225.1,384.2 1227.1,384.8 1229.1,385.4 1231.1,385.9 1233.2,386.5 1235.3,387.2 1237.6,387.9 1240.0,388.6 1241.7,389.2 1243.6,389.7 1245.4,390.3 1247.3,391.0 1249.3,391.6 1251.2,392.3 1253.3,392.9 1255.3,393.6 1257.4,394.3 1259.4,395.0 1261.5,395.7 1263.6,396.3 1265.7,397.0 1267.7,397.6 1269.6,398.2 1271.6,398.8 1273.7,399.5 1275.7,400.1 1277.8,400.7 1279.8,401.3 1281.9,402.0 1284.0,402.6 1286.0,403.2 1288.1,403.8 1290.2,404.5 1292.3,405.1 1294.3,405.7 1296.3,406.3 1298.4,406.9 1300.4,407.6 1302.5,408.2 1304.5,408.8 1306.6,409.5 1308.6,410.1 1310.6,410.7 1312.7,411.3 1314.7,412.0 1316.8,412.6 1318.8,413.2 1320.9,413.7 1322.9,414.3 1324.9,414.9 1327.0,415.4 1329.0,415.9 1331.0,416.5 1333.1,417.0 1335.1,417.5 1337.2,418.0 1339.2,418.5 1341.2,419.0 1343.3,419.5 1345.3,420.0 1347.3,420.5 1349.4,420.9 1351.4,421.4 1353.4,421.8 1355.5,422.3 1357.5,422.7 1359.6,423.1 1361.6,423.5 1363.7,423.9 1365.7,424.3 1367.7,424.7 1369.8,425.0 1371.8,425.4 1373.9,425.8 1375.9,426.2 1378.0,426.6 1380.0,427.0 1382.0,427.4 1384.1,427.8 1386.1,428.3 1388.2,428.7 1390.2,429.1 1392.3,429.6 1394.3,430.0 1396.4,430.4 1398.4,430.9 1400.4,431.3 1402.5,431.7 1404.5,432.2 1406.6,432.6 1408.6,433.0 1410.6,433.4 1412.7,433.8 1414.7,434.2 1416.7,434.6 1418.7,435.0 1420.8,435.4 1422.8,435.8 1424.8,436.2 1426.8,436.6 1428.9,437.0 1430.9,437.4 1432.9,437.8 1435.0,438.2 1437.0,438.6 1439.1,439.0 1441.1,439.4 1443.2,439.9 1445.3,440.3 1447.5,440.7 1449.6,441.2 1451.7,441.6 1453.8,442.0 1455.9,442.4 1457.9,442.9 1459.9,443.2 1461.9,443.6 1463.8,444.0 1465.7,444.3 1468.0,444.7 1470.1,445.0 1472.2,445.3 1474.2,445.6 1476.2,445.8 1478.1,446.0 1480.1,446.3 1482.1,446.5 1484.2,446.8 1486.3,447.1 1488.6,447.5 1490.5,447.8 1492.4,448.2 1494.3,448.5 1496.3,448.9 1498.3,449.3 1500.4,449.8 1502.4,450.2 1504.5,450.6 1506.6,451.0 1508.7,451.4 1510.8,451.8 1512.9,452.2 1514.9,452.6 1517.0,452.9 1519.0,453.2 1521.1,453.5 1523.1,453.8 1525.2,454.0 1527.2,454.3 1529.3,454.5 1531.3,454.8 1533.4,455.0 1535.4,455.2 1537.5,455.4 1539.6,455.7 1541.6,455.9 1543.7,456.2 1545.7,456.4 1547.7,456.7 1549.8,456.9 1551.8,457.2 1553.9,457.4 1555.9,457.6 1558.0,457.9 1560.0,458.1 1562.0,458.4 1564.1,458.7 1566.1,458.9 1568.2,459.2 1570.2,459.4 1572.3,459.7 1574.3,460.0 1576.3,460.3 1578.4,460.6 1580.4,460.9 1582.5,461.2 1584.5,461.5 1586.6,461.8 1588.6,462.1 1590.6,462.4 1592.7,462.7 1594.7,463.1 1596.8,463.4 1598.8,463.7 1600.9,464.0 1602.9,464.3 1604.9,464.6 1607.0,464.9 1609.0,465.2 1611.0,465.5 1613.1,465.8 1615.1,466.1 1617.2,466.5 1619.2,466.8 1621.2,467.1 1623.3,467.4 1625.3,467.7 1627.3,468.0 1629.4,468.3 1631.4,468.6 1633.4,468.9 1635.5,469.2 1637.5,469.5 1639.6,469.8 1641.6,470.1 1643.7,470.5 1645.7,470.8 1647.7,471.1 1649.8,471.4 1651.8,471.7 1653.9,472.0 1655.9,472.3 1658.0,472.6 1660.0,472.9 1662.0,473.2 1664.1,473.5 1666.1,473.8 1668.2,474.1 1670.2,474.4 1672.3,474.7 1674.3,475.0 1676.4,475.3 1678.4,475.6 1680.4,475.9 1682.5,476.2 1684.5,476.5 1686.6,476.7 1688.6,477.0 1690.6,477.2 1692.7,477.5 1694.7,477.7 1696.7,477.9 1698.7,478.2 1700.8,478.4 1702.8,478.6 1704.8,478.8 1706.8,479.0 1708.9,479.2 1710.9,479.4 1712.9,479.6 1715.0,479.8 1717.0,480.0 1719.1,480.2 1721.1,480.4 1723.2,480.6 1725.3,480.8 1727.4,481.1 1729.6,481.3 1731.7,481.5 1733.8,481.7 1735.8,481.9 1737.9,482.1 1739.9,482.3 1741.9,482.5 1743.8,482.8 1745.7,483.0 1748.0,483.3 1750.2,483.6 1752.3,483.9 1754.3,484.2 1756.3,484.5 1758.3,484.8 1760.3,485.1 1762.4,485.5 1764.5,485.8 1766.7,486.1 1769.0,486.5 1770.9,486.8 1772.8,487.1 1774.8,487.4 1776.9,487.7 1778.9,488.1 1781.0,488.4 1783.1,488.7 1785.3,489.1 1787.4,489.4 1789.5,489.8 1791.7,490.1 1793.8,490.4 1795.9,490.7 1798.0,491.0 1800.1,491.3 1802.1,491.6 1804.2,491.9 1806.3,492.1 1808.4,492.4 1810.4,492.7 1812.5,492.9 1814.6,493.2 1816.6,493.5 1818.7,493.7 1820.8,493.9 1822.9,494.2 1824.9,494.4 1827.0,494.6 1829.1,494.8 1831.1,495.0 1833.2,495.2 1835.3,495.3 1837.4,495.5 1839.4,495.6 1841.5,495.8 1843.6,495.9 1845.6,496.1 1847.7,496.2 1849.8,496.4 1851.9,496.5 1853.9,496.6 1856.0,496.8 1858.1,497.0 1860.1,497.1 1862.2,497.3 1864.3,497.4 1866.4,497.6 1868.4,497.7 1870.5,497.9 1872.6,498.0 1874.6,498.2 1876.7,498.3 1878.8,498.5 1880.9,498.7 1882.9,498.8 1885.0,499.0 1887.1,499.2 1889.1,499.4 1891.2,499.6 1893.3,499.8 1895.4,500.0 1897.4,500.2 1899.5,500.4 1901.6,500.6 1903.6,500.8 1905.7,501.0 1907.8,501.2 1909.9,501.4 1911.9,501.6 1914.0,501.8 1916.1,502.0 1918.1,502.2 1920.2,502.4 1922.3,502.7 1924.4,502.9 1926.4,503.1 1928.5,503.3 1930.6,503.5 1932.6,503.8 1934.7,504.0 1936.8,504.2 1938.9,504.4 1940.9,504.5 1943.0,504.7 1945.1,504.8 1947.1,505.0 1949.2,505.1 1951.3,505.2 1953.4,505.3 1955.4,505.4 1957.5,505.5 1959.6,505.6 1961.6,505.7 1963.7,505.8 1965.8,505.9 1967.9,506.0 1969.9,506.1 1972.0,506.2 1974.1,506.3 1976.1,506.5 1978.1,506.6 1980.0,506.8 1982.0,507.0 1984.0,507.1 1986.0,507.3 1988.0,507.5 1990.0,507.6 1992.1,507.8 1994.2,508.0 1996.4,508.1 1998.7,508.3 2001.0,508.4 2002.9,508.5 2005.0,508.6 2007.2,508.7 2009.5,508.8 2011.9,508.9 2014.3,509.0 2016.7,509.1 2019.2,509.2 2021.6,509.3 2024.0,509.4 2026.3,509.5 2028.5,509.6 2030.6,509.7 2032.6,509.8 2034.4,509.8 2036.0,509.9 2037.4,510.0 2038.6,510.0" fill="none" stroke="#ad0e0e" stroke-width="6.4" stroke-linejoin="round" stroke-linecap="butt" clip-path="url(#cTop)"/>
<path d="M223.0,489.9 L223.8,489.8 L224.7,489.8 L225.6,489.7 L226.6,489.6 L227.7,489.6 L228.7,489.5 L229.8,489.4 L231.0,489.3 L232.2,489.3 L233.4,489.2 L234.6,489.1 L235.9,489.0 L237.2,488.9 L238.6,488.9 L239.9,488.8 L241.3,488.7 L242.8,488.6 L244.2,488.5 L245.7,488.4 L247.2,488.3 L248.7,488.2 L250.3,488.1 L251.9,488.0 L253.4,487.9 L253.6,487.9 M285.7,485.6 L286.0,485.6 L287.8,485.4 L289.5,485.3 L291.3,485.2 L293.1,485.0 L294.8,484.9 L296.5,484.7 L298.3,484.6 L300.0,484.4 L301.7,484.3 L303.4,484.1 L305.1,484.0 L306.8,483.8 L308.5,483.6 L310.1,483.5 L311.8,483.3 L313.4,483.2 L315.0,483.0 L316.4,482.9 M347.9,479.0 L348.7,478.9 L350.3,478.7 L351.9,478.5 L353.5,478.3 L355.1,478.1 L356.7,477.9 L358.3,477.7 L359.9,477.4 L361.5,477.2 L363.1,477.0 L364.7,476.8 L366.3,476.6 L367.9,476.3 L369.5,476.1 L371.1,475.9 L372.6,475.7 L374.2,475.5 L375.8,475.3 L377.4,475.0 L378.6,474.9 M410.7,470.5 L411.3,470.5 L412.6,470.3 L413.9,470.1 L415.2,470.0 L416.5,469.8 L417.8,469.6 L419.0,469.5 L420.9,469.3 L422.8,469.1 L424.7,468.8 L426.5,468.6 L428.3,468.4 L430.0,468.2 L431.7,468.1 L433.4,467.9 L435.1,467.7 L436.7,467.5 L438.4,467.4 L439.9,467.2 L441.4,467.1 M472.9,464.1 L472.9,464.1 L474.3,464.0 L475.7,463.8 L477.2,463.7 L478.6,463.5 L480.0,463.4 L481.5,463.2 L483.0,463.0 L484.5,462.9 L486.0,462.7 L487.5,462.5 L489.0,462.4 L490.5,462.2 L492.0,462.0 L493.5,461.8 L495.0,461.6 L496.5,461.5 L498.1,461.3 L499.6,461.1 L501.1,460.9 L502.6,460.7 L503.6,460.6 M535.2,456.6 L535.9,456.5 L537.4,456.3 L538.9,456.1 L540.3,455.9 L541.7,455.6 L543.2,455.4 L544.6,455.2 L546.0,455.0 L547.5,454.8 L548.9,454.6 L550.2,454.4 L551.6,454.2 L553.0,454.0 L554.7,453.7 L556.3,453.5 L557.9,453.2 L559.5,453.0 L561.1,452.7 L562.7,452.5 L564.2,452.2 L565.8,451.9 L566.7,451.8 M598.0,446.1 L598.4,446.0 L599.9,445.7 L601.4,445.4 L602.9,445.1 L604.4,444.8 L605.9,444.6 L607.5,444.3 L609.0,444.0 L610.5,443.7 L612.0,443.5 L613.5,443.2 L615.0,442.9 L616.5,442.6 L618.1,442.3 L619.6,442.0 L621.2,441.7 L622.8,441.4 L624.3,441.1 L625.9,440.8 L627.5,440.5 L628.6,440.3 M660.0,434.2 L660.8,434.1 L662.1,433.9 L663.4,433.6 L664.6,433.4 L665.8,433.2 L667.0,433.0 L669.0,432.7 L670.9,432.4 L672.8,432.1 L674.5,431.8 L676.2,431.6 L677.8,431.3 L679.3,431.1 L680.8,430.9 L682.3,430.7 L683.7,430.6 L685.1,430.4 L686.4,430.2 L687.7,430.1 L689.1,429.9 L690.4,429.8 L691.7,429.6 L693.0,429.5 L694.3,429.3 L695.7,429.1 L697.1,428.9 L698.5,428.7 L700.0,428.5 L701.5,428.3 L703.0,428.0 L704.5,427.8 L706.1,427.6 L707.6,427.4 L709.2,427.1 L710.7,426.9 L712.3,426.7 L713.8,426.4 L714.0,426.4 M743.8,420.0 L745.2,419.6 L746.7,419.1 L748.1,418.7 L749.6,418.2 L751.0,417.7 L752.4,417.3 L753.9,416.8 L755.4,416.3 L756.9,415.9 L758.4,415.4 L760.0,415.0 L761.4,414.6 L762.9,414.2 L764.3,413.8 L765.8,413.5 L767.2,413.1 L768.7,412.7 L770.2,412.3 L771.7,412.0 L773.2,411.6 L774.7,411.2 L776.2,410.8 L777.0,410.7 M806.7,403.7 L808.0,403.4 L809.6,403.1 L811.1,402.7 L812.7,402.3 L814.4,401.9 L816.2,401.5 L818.0,401.0 L820.0,400.5 L822.0,400.0 L823.2,399.7 L824.3,399.4 L825.5,399.1 L826.8,398.8 L828.0,398.5 L829.3,398.2 L830.6,397.9 L831.9,397.6 L833.2,397.3 L834.6,397.0 L835.9,396.7 L837.0,396.4 M868.6,388.0 L869.1,387.8 L870.7,387.3 L872.3,386.7 L873.8,386.2 L875.4,385.6 L877.0,385.0 L878.3,384.5 L879.5,384.0 L880.8,383.5 L882.1,383.0 L883.4,382.5 L884.7,381.9 L886.0,381.4 L887.4,380.8 L888.7,380.2 L890.0,379.7 M928.6,361.2 L929.0,361.0 L930.4,360.3 L931.7,359.6 L933.0,358.9 L934.3,358.2 L935.6,357.5 L936.9,356.8 L938.2,356.1 L939.5,355.4 L940.8,354.7 L942.0,354.0 L943.4,353.2 L944.8,352.4 L946.2,351.7 L947.6,350.9 L949.0,350.1 L950.4,349.3 L951.7,348.6 L953.1,347.8 L954.4,347.0 L955.7,346.3 M982.9,329.2 L983.9,328.5 L985.2,327.6 L986.4,326.7 L987.6,325.7 L988.8,324.8 L990.0,323.9 L991.2,322.9 L992.4,322.0 L993.6,321.0 L994.8,320.0 L996.0,319.0 L997.1,318.0 L998.2,317.1 L999.4,316.1 L1000.5,315.0 L1001.6,314.0 L1002.7,312.9 L1003.9,311.8 L1005.0,310.7 L1006.1,309.6 L1007.3,308.5 L1008.4,307.4 L1008.6,307.1 M1032.2,280.8 L1032.8,280.1 L1033.7,279.0 L1034.6,277.9 L1035.5,276.8 L1036.4,275.8 L1037.2,274.7 L1038.1,273.7 L1038.9,272.7 L1039.7,271.8 L1040.5,270.8 L1041.3,269.9 L1042.0,269.0 L1043.4,267.3 L1044.7,265.7 L1046.0,264.1 L1047.1,262.6 L1048.2,261.1 L1049.3,259.7 L1050.3,258.4 L1050.8,257.6 M1067.4,230.8 L1068.0,229.7 L1068.8,228.4 L1069.5,227.1 L1070.1,225.8 L1070.8,224.6 L1071.5,223.4 L1072.1,222.2 L1072.7,221.1 L1073.4,220.0 L1074.0,219.0 L1075.1,217.3 L1076.1,215.7 L1077.0,214.3 L1077.9,213.0 L1078.8,211.8 L1079.6,210.7 L1080.4,209.7 L1081.2,208.8 L1082.0,208.0 L1083.6,206.4 L1085.1,205.3 L1085.3,205.2 M1106.9,224.8 L1107.1,225.3 L1107.9,226.7 L1108.7,228.2 L1109.5,229.7 L1110.3,231.2 L1111.1,232.6 L1111.8,233.9 M1111.8,233.9 L1111.9,234.1 L1112.6,235.4 L1113.3,236.8 L1114.0,238.0 L1114.9,239.6 L1115.7,241.1 L1116.4,242.6 L1117.1,243.9 L1117.8,245.2 L1118.5,246.6 L1119.2,247.9 L1120.1,249.4 L1121.0,251.0 L1121.7,252.2 L1122.4,253.3 L1123.2,254.5 L1124.0,255.8 L1124.8,257.0 L1125.6,258.3 L1126.5,259.6 L1127.4,260.9 L1128.3,262.3 L1129.2,263.7 L1130.1,265.1 L1130.4,265.5 M1150.0,294.8 L1150.0,294.9 L1151.1,296.1 L1152.2,297.2 L1153.2,298.4 L1154.3,299.5 L1155.4,300.6 L1156.5,301.7 L1157.6,302.8 L1158.7,303.9 L1159.8,304.9 L1160.9,306.0 L1161.9,307.0 L1163.0,308.0 L1164.2,309.1 L1165.4,310.2 L1166.6,311.3 L1167.8,312.3 L1169.0,313.4 L1170.2,314.4 L1171.4,315.4 L1172.6,316.3 L1173.9,317.3 L1175.1,318.3 L1175.4,318.5 M1201.5,336.2 L1201.8,336.4 L1203.0,337.1 L1204.2,337.9 L1205.5,338.6 L1206.7,339.3 L1207.9,340.0 L1209.2,340.8 L1210.6,341.5 L1212.0,342.3 L1213.4,343.1 L1215.0,344.0 L1216.2,344.6 L1217.3,345.3 L1218.5,346.0 L1219.7,346.6 L1220.9,347.3 L1222.2,348.0 L1223.4,348.7 L1224.7,349.5 L1226.1,350.2 L1227.4,350.9 L1228.8,351.7 L1228.9,351.7 M1242.9,358.2 L1243.6,358.5 L1244.9,359.0 L1246.2,359.5 L1247.6,360.0 L1248.9,360.6 L1250.3,361.1 L1251.7,361.6 L1253.2,362.1 L1254.6,362.7 L1256.1,363.2 L1257.6,363.7 L1259.1,364.2 L1260.6,364.8 L1262.1,365.3 L1263.6,365.9 L1265.1,366.4 L1266.6,367.0 L1268.1,367.5 L1269.6,368.1 L1271.2,368.6 L1272.7,369.2 L1274.2,369.7 L1274.3,369.8 M1305.7,383.1 L1305.7,383.1 L1307.1,383.7 L1308.6,384.3 L1310.0,384.9 L1311.4,385.5 L1312.9,386.1 L1314.3,386.7 L1315.7,387.3 L1317.1,387.9 L1318.6,388.4 L1320.0,389.0 L1321.4,389.6 L1322.9,390.1 L1324.3,390.6 L1325.7,391.2 L1327.1,391.7 L1328.6,392.2 L1330.0,392.8 L1331.4,393.3 L1332.9,393.8 L1334.3,394.3 L1335.7,394.8 M1361.4,403.5 L1361.5,403.5 L1363.0,404.0 L1364.4,404.4 L1365.9,404.9 L1367.4,405.4 L1368.9,405.9 L1370.4,406.3 L1371.9,406.8 L1373.3,407.3 L1374.8,407.7 L1376.3,408.2 L1377.8,408.7 L1379.3,409.1 L1380.7,409.6 L1382.2,410.0 L1383.7,410.5 L1385.2,410.9 L1386.7,411.3 L1388.1,411.8 L1389.6,412.2 L1391.1,412.6 L1391.4,412.7 M1424.3,420.4 L1425.2,420.5 L1426.7,420.8 L1428.1,421.1 L1429.6,421.4 L1431.1,421.7 L1432.6,422.0 L1434.1,422.3 L1435.6,422.6 L1437.0,422.9 L1438.5,423.2 L1440.0,423.5 L1441.5,423.8 L1443.0,424.1 L1444.4,424.4 L1445.9,424.7 L1447.4,425.0 L1448.9,425.3 L1450.4,425.6 L1451.9,425.9 L1453.3,426.2 L1454.3,426.4 M1485.7,432.5 L1485.9,432.6 L1487.4,432.8 L1488.9,433.1 L1490.4,433.3 L1491.9,433.6 L1493.3,433.9 L1494.8,434.1 L1496.3,434.3 L1497.8,434.6 L1499.3,434.8 L1500.7,435.1 L1502.2,435.3 L1503.7,435.6 L1505.2,435.8 L1506.7,436.1 L1508.1,436.3 L1509.6,436.6 L1511.1,436.9 L1512.6,437.1 L1514.1,437.4 L1515.6,437.7 L1515.7,437.7 M1547.9,444.6 L1548.1,444.6 L1549.6,444.9 L1551.1,445.3 L1552.6,445.6 L1554.1,445.9 L1555.6,446.2 L1557.0,446.4 L1558.5,446.7 L1560.0,447.0 L1561.5,447.3 L1563.1,447.5 L1564.6,447.8 L1566.2,448.1 L1567.7,448.3 L1569.2,448.6 L1570.8,448.8 L1572.3,449.0 L1573.8,449.3 L1575.4,449.5 L1576.9,449.7 L1578.5,449.9 L1578.6,450.0 M1610.7,454.6 L1610.8,454.6 L1612.3,454.9 L1613.8,455.1 L1615.4,455.4 L1616.9,455.6 L1618.5,455.8 L1620.0,456.1 L1621.5,456.3 L1623.1,456.5 L1624.6,456.8 L1626.2,457.0 L1627.7,457.2 L1629.2,457.5 L1630.8,457.7 L1632.3,457.9 L1633.8,458.1 L1635.4,458.4 L1636.9,458.6 L1638.5,458.8 L1640.0,459.0 L1640.7,459.1 M1672.9,463.1 L1673.8,463.2 L1675.4,463.4 L1676.9,463.6 L1678.5,463.8 L1680.0,464.0 L1681.5,464.2 L1683.1,464.4 L1684.6,464.6 L1686.2,464.8 L1687.7,465.0 L1689.2,465.2 L1690.8,465.4 L1692.3,465.6 L1693.8,465.8 L1695.4,466.0 L1696.9,466.2 L1698.5,466.4 L1700.0,466.6 L1701.5,466.8 L1703.1,467.0 L1703.6,467.0 M1735.7,470.6 L1736.9,470.8 L1738.5,470.9 L1740.0,471.1 L1741.5,471.2 L1743.1,471.4 L1744.6,471.5 L1746.2,471.7 L1747.7,471.8 L1749.2,471.9 L1750.8,472.1 L1752.3,472.2 L1753.8,472.4 L1755.4,472.5 L1756.9,472.7 L1758.5,472.8 L1760.0,473.0 L1761.5,473.2 L1763.1,473.3 L1764.6,473.5 L1766.0,473.6 M1798.0,476.8 L1798.5,476.8 L1800.0,477.0 L1801.5,477.2 L1803.1,477.3 L1804.6,477.5 L1806.2,477.6 L1807.7,477.8 L1809.2,477.9 L1810.8,478.1 L1812.3,478.2 L1813.8,478.4 L1815.4,478.5 L1816.9,478.7 L1818.5,478.8 L1820.0,479.0 L1821.5,479.2 L1823.1,479.3 L1824.6,479.5 L1826.2,479.6 L1827.7,479.8 L1828.5,479.8 M1860.5,483.1 L1861.5,483.2 L1863.1,483.4 L1864.6,483.5 L1866.2,483.7 L1867.7,483.8 L1869.2,484.0 L1870.8,484.1 L1872.3,484.3 L1873.8,484.4 L1875.4,484.6 L1876.9,484.7 L1878.5,484.9 L1880.0,485.0 L1881.5,485.1 L1883.1,485.3 L1884.6,485.4 L1886.2,485.5 L1887.7,485.6 L1889.2,485.7 L1890.8,485.9 L1891.0,485.9 M1923.0,488.3 L1923.1,488.3 L1924.6,488.4 L1926.2,488.6 L1927.7,488.7 L1929.2,488.9 L1930.8,489.0 L1932.3,489.2 L1933.8,489.3 L1935.4,489.5 L1936.9,489.7 L1938.5,489.8 L1940.0,490.0 L1941.5,490.2 L1943.1,490.3 L1944.6,490.5 L1946.2,490.7 L1947.7,490.8 L1949.2,491.0 L1950.8,491.1 L1952.3,491.3 L1953.8,491.4 L1955.4,491.6 L1956.0,491.6 M1986.7,494.1 L1987.8,494.2 L1989.3,494.3 L1990.9,494.4 L1992.4,494.5 L1993.9,494.6 L1995.4,494.7 L1997.0,494.8 L1998.5,494.9 L2000.0,495.0 L2001.6,495.1 L2003.2,495.2 L2004.9,495.3 L2006.7,495.4 L2008.4,495.5 L2010.2,495.6 L2012.0,495.7 L2013.8,495.8 L2015.6,495.9 L2017.0,495.9" fill="none" stroke="#0a0aa6" stroke-width="6.4" stroke-linejoin="round" stroke-linecap="butt" clip-path="url(#cTop)"/>
<path d="M223.0,485.9 L223.8,485.8 L224.7,485.7 L225.6,485.6 L226.6,485.6 L227.7,485.5 L228.7,485.4 L229.8,485.3 L231.0,485.2 L232.2,485.2 L233.4,485.1 L234.6,485.0 L235.9,484.9 L237.2,484.8 L238.6,484.7 L239.9,484.6 L241.3,484.5 L242.8,484.4 L244.2,484.3 L245.7,484.1 L247.2,484.0 L248.7,483.9 L250.3,483.8 L251.9,483.7 L253.4,483.6 L253.6,483.6 M285.7,480.9 L286.0,480.9 L287.8,480.8 L289.5,480.6 L291.3,480.4 L293.1,480.3 L294.8,480.1 L296.5,479.9 L298.3,479.8 L300.0,479.6 L301.7,479.4 L303.4,479.3 L305.1,479.1 L306.8,478.9 L308.5,478.7 L310.1,478.5 L311.8,478.4 L313.4,478.2 L315.0,478.0 L316.4,477.8 M347.9,473.6 L348.2,473.5 L349.7,473.3 L351.3,473.1 L352.9,472.8 L354.5,472.6 L356.1,472.4 L357.6,472.1 L359.2,471.9 L360.8,471.7 L362.4,471.4 L363.9,471.2 L365.5,470.9 L367.1,470.7 L368.7,470.5 L370.2,470.2 L371.8,470.0 L373.4,469.7 L374.9,469.5 L376.5,469.3 L378.0,469.0 L378.6,468.9 M410.7,464.1 L411.4,464.0 L412.7,463.9 L414.0,463.7 L415.3,463.5 L416.5,463.3 L417.8,463.2 L419.0,463.0 L420.9,462.8 L422.8,462.5 L424.7,462.3 L426.5,462.1 L428.3,461.8 L430.0,461.6 L431.7,461.4 L433.4,461.2 L435.1,461.0 L436.7,460.9 L438.4,460.7 L439.9,460.5 L441.4,460.3 M472.9,457.2 L472.9,457.2 L474.3,457.0 L475.7,456.9 L477.2,456.7 L478.6,456.6 L480.0,456.4 L481.5,456.2 L483.0,456.1 L484.5,455.9 L486.0,455.7 L487.5,455.5 L489.0,455.3 L490.5,455.2 L492.0,455.0 L493.5,454.8 L495.0,454.6 L496.5,454.4 L498.1,454.2 L499.6,454.0 L501.1,453.9 L502.6,453.7 L503.6,453.5 M535.2,449.4 L535.9,449.3 L537.4,449.1 L538.9,448.9 L540.3,448.7 L541.7,448.5 L543.2,448.2 L544.6,448.0 L546.0,447.8 L547.5,447.6 L548.9,447.4 L550.2,447.1 L551.6,446.9 L553.0,446.7 L554.6,446.4 L556.2,446.2 L557.8,445.9 L559.3,445.6 L560.9,445.3 L562.4,445.1 L564.0,444.8 L565.5,444.5 L566.7,444.3 M598.0,437.8 L598.7,437.6 L600.2,437.3 L601.6,437.0 L603.1,436.7 L604.5,436.4 L606.0,436.1 L607.5,435.8 L609.0,435.5 L610.5,435.2 L612.0,434.9 L613.5,434.6 L615.0,434.3 L616.5,434.0 L618.1,433.7 L619.6,433.4 L621.2,433.1 L622.8,432.7 L624.3,432.4 L625.9,432.1 L627.5,431.8 L628.6,431.6 M660.0,425.3 L660.8,425.2 L662.1,424.9 L663.4,424.7 L664.6,424.4 L665.8,424.2 L667.0,424.0 L669.0,423.6 L670.9,423.3 L672.8,423.0 L674.5,422.7 L676.2,422.5 L677.8,422.2 L679.3,422.0 L680.8,421.8 L682.3,421.6 L683.7,421.4 L685.1,421.2 L686.4,421.0 L687.7,420.9 L689.1,420.7 L690.4,420.5 L691.7,420.3 L693.0,420.1 L694.3,419.9 L695.7,419.7 L697.1,419.5 L698.5,419.3 L700.0,419.0 L701.5,418.7 L703.0,418.4 L704.5,418.1 L706.1,417.8 L707.6,417.5 L709.2,417.2 L710.7,416.9 L712.3,416.6 L713.8,416.2 L714.0,416.2 M743.8,409.6 L745.2,409.3 L746.7,409.0 L748.1,408.6 L749.6,408.3 L751.0,408.0 L752.4,407.7 L753.9,407.3 L755.4,407.0 L756.9,406.7 L758.4,406.3 L760.0,406.0 L761.4,405.7 L762.9,405.4 L764.3,405.1 L765.8,404.7 L767.2,404.4 L768.7,404.1 L770.2,403.8 L771.6,403.4 L773.1,403.1 L774.6,402.8 L776.1,402.5 L777.0,402.3 M806.7,396.6 L807.3,396.5 L808.7,396.3 L810.3,396.0 L811.8,395.7 L813.5,395.3 L815.2,394.9 L817.0,394.5 L818.9,394.0 L820.9,393.5 L823.0,393.0 L824.1,392.7 L825.3,392.4 L826.5,392.1 L827.7,391.7 L828.9,391.3 L830.2,391.0 L831.4,390.6 L832.7,390.2 L834.1,389.8 L835.4,389.4 L836.8,388.9 L838.2,388.5 L839.6,388.1 L840.0,387.9 M869.0,378.8 L870.0,378.5 L871.5,378.0 L873.1,377.6 L874.6,377.1 L876.1,376.7 L877.6,376.3 L879.1,375.9 L880.6,375.5 L882.1,375.1 L883.6,374.7 L885.0,374.3 L886.5,373.9 L888.0,373.6 L889.4,373.2 L890.9,372.8 L892.4,372.5 L893.9,372.1 L895.3,371.8 L896.8,371.5 L898.3,371.1 L899.0,371.0 M931.0,364.5 L932.3,364.2 L933.7,364.0 L935.2,363.7 L936.7,363.4 L938.2,363.1 L939.6,362.8 L941.1,362.5 L942.6,362.3 L944.1,362.0 L945.5,361.7 L947.0,361.4 L948.5,361.1 L950.0,360.8 L951.5,360.5 L953.0,360.2 L954.5,359.9 L956.0,359.6 L957.5,359.3 L959.0,359.0 L960.5,358.7 L962.0,358.4 M993.0,352.4 L993.5,352.3 L995.0,352.0 L996.5,351.8 L998.0,351.6 L999.5,351.3 L1001.1,351.1 L1002.6,350.9 L1004.1,350.6 L1005.6,350.4 L1007.1,350.2 L1008.6,350.0 L1010.1,349.8 L1011.6,349.6 L1013.1,349.4 L1014.7,349.2 L1016.2,349.0 L1017.7,348.9 L1019.2,348.7 L1020.7,348.5 L1022.2,348.3 L1023.0,348.3 M1055.7,345.6 L1055.7,345.6 L1057.2,345.5 L1058.8,345.4 L1060.3,345.4 L1061.8,345.3 L1063.4,345.2 L1064.9,345.2 L1066.4,345.1 L1067.9,345.1 L1069.5,345.0 L1071.0,345.0 L1072.5,345.0 L1074.0,344.9 L1075.5,344.9 L1077.0,344.9 L1078.5,344.9 L1080.0,344.9 L1081.5,344.9 L1083.0,344.9 L1084.5,344.9 L1086.0,344.9 L1086.7,344.9 M1119.0,346.0 L1119.1,346.0 L1120.6,346.1 L1122.1,346.2 L1123.6,346.3 L1125.0,346.4 L1126.5,346.5 L1128.0,346.6 L1129.5,346.7 L1131.0,346.8 L1132.5,346.9 L1134.0,347.0 L1135.5,347.1 L1137.0,347.2 L1138.6,347.3 L1140.1,347.5 L1141.6,347.6 L1143.1,347.7 L1144.6,347.8 L1146.2,348.0 L1147.7,348.1 L1148.6,348.2 M1181.0,351.8 L1182.4,352.0 L1183.9,352.2 L1185.4,352.5 L1186.9,352.7 L1188.4,352.9 L1190.0,353.1 L1191.5,353.3 L1193.0,353.5 L1194.5,353.8 L1196.0,354.0 L1197.5,354.2 L1199.0,354.5 L1200.4,354.7 L1201.9,354.9 L1203.4,355.2 L1204.9,355.4 L1206.3,355.7 L1207.8,355.9 L1209.3,356.2 L1210.8,356.4 L1211.4,356.6 M1242.9,362.8 L1243.2,362.8 L1244.7,363.1 L1246.2,363.5 L1247.7,363.8 L1249.1,364.1 L1250.6,364.4 L1252.1,364.7 L1253.6,365.0 L1255.0,365.4 L1256.5,365.7 L1258.0,366.0 L1259.5,366.3 L1261.0,366.6 L1262.4,367.0 L1263.9,367.3 L1265.4,367.6 L1266.9,368.0 L1268.4,368.3 L1269.9,368.7 L1271.4,369.0 L1272.9,369.3 L1274.3,369.7 M1305.7,377.3 L1307.1,377.7 L1308.6,378.0 L1310.0,378.4 L1311.5,378.8 L1312.9,379.1 L1314.3,379.5 L1315.8,379.9 L1317.2,380.3 L1318.6,380.6 L1320.0,381.0 L1321.5,381.4 L1323.1,381.8 L1324.6,382.2 L1326.1,382.7 L1327.6,383.1 L1329.1,383.5 L1330.6,383.9 L1332.1,384.3 L1333.5,384.8 L1335.0,385.2 L1335.7,385.4 M1361.4,393.0 L1362.4,393.3 L1363.9,393.7 L1365.3,394.2 L1366.8,394.6 L1368.3,395.0 L1369.8,395.4 L1371.4,395.8 L1372.9,396.2 L1374.4,396.6 L1376.0,397.0 L1377.4,397.3 L1378.8,397.7 L1380.2,398.0 L1381.6,398.4 L1383.0,398.7 L1384.4,399.1 L1385.9,399.4 L1387.3,399.7 L1388.8,400.1 L1390.2,400.4 L1391.4,400.7 M1424.3,407.8 L1424.3,407.9 L1425.8,408.2 L1427.3,408.5 L1428.8,408.8 L1430.3,409.1 L1431.7,409.4 L1433.2,409.7 L1434.6,410.1 L1436.1,410.4 L1437.6,410.7 L1439.0,411.0 L1440.5,411.3 L1442.0,411.7 L1443.5,412.0 L1445.0,412.3 L1446.5,412.6 L1448.0,413.0 L1449.5,413.3 L1451.0,413.6 L1452.5,413.9 L1454.0,414.2 L1454.3,414.3 M1485.7,421.0 L1486.5,421.2 L1488.0,421.5 L1489.5,421.8 L1491.0,422.1 L1492.5,422.4 L1494.0,422.7 L1495.5,423.1 L1497.0,423.4 L1498.5,423.7 L1500.0,424.0 L1501.5,424.3 L1503.0,424.6 L1504.4,424.9 L1505.9,425.3 L1507.4,425.6 L1508.9,425.9 L1510.4,426.2 L1511.9,426.5 L1513.4,426.8 L1514.9,427.2 L1515.7,427.3 M1547.9,434.1 L1548.0,434.1 L1549.5,434.4 L1551.0,434.7 L1552.5,435.0 L1554.0,435.3 L1555.5,435.6 L1557.0,435.9 L1558.5,436.2 L1560.0,436.4 L1561.5,436.7 L1563.0,437.0 L1564.5,437.3 L1566.0,437.5 L1567.5,437.8 L1569.0,438.1 L1570.5,438.3 L1572.0,438.6 L1573.5,438.8 L1575.0,439.1 L1576.5,439.3 L1578.0,439.6 L1578.6,439.7 M1610.7,444.6 L1611.1,444.6 L1612.6,444.9 L1614.1,445.1 L1615.6,445.3 L1617.1,445.6 L1618.5,445.8 L1620.0,446.0 L1621.5,446.3 L1623.0,446.5 L1624.5,446.8 L1626.0,447.0 L1627.5,447.3 L1629.0,447.5 L1630.6,447.8 L1632.1,448.0 L1633.6,448.3 L1635.1,448.5 L1636.6,448.8 L1638.1,449.1 L1639.6,449.3 L1640.7,449.5 M1672.9,455.2 L1674.2,455.4 L1675.7,455.6 L1677.3,455.9 L1678.8,456.1 L1680.3,456.4 L1681.8,456.6 L1683.4,456.8 L1684.9,457.1 L1686.5,457.3 L1688.0,457.5 L1689.5,457.7 L1691.0,457.9 L1692.5,458.1 L1694.0,458.3 L1695.5,458.5 L1697.0,458.7 L1698.5,458.9 L1700.0,459.1 L1701.5,459.2 L1703.0,459.4 L1703.6,459.5 M1735.7,463.0 L1736.7,463.1 L1738.2,463.2 L1739.7,463.4 L1741.2,463.6 L1742.7,463.8 L1744.2,463.9 L1745.7,464.1 L1747.1,464.3 L1748.6,464.5 L1750.1,464.6 L1751.5,464.8 L1753.0,465.0 L1754.6,465.2 L1756.1,465.4 L1757.7,465.6 L1759.2,465.8 L1760.7,466.0 L1762.2,466.2 L1763.8,466.4 L1765.3,466.7 L1766.0,466.8 M1798.0,471.5 L1799.4,471.7 L1800.9,471.9 L1802.4,472.1 L1803.9,472.3 L1805.4,472.5 L1806.9,472.7 L1808.4,472.9 L1809.9,473.1 L1811.5,473.3 L1813.0,473.5 L1814.5,473.7 L1815.9,473.9 L1817.4,474.0 L1818.9,474.2 L1820.4,474.4 L1821.8,474.6 L1823.3,474.7 L1824.8,474.9 L1826.3,475.1 L1827.8,475.3 L1828.5,475.3 M1860.5,478.8 L1860.9,478.8 L1862.4,478.9 L1863.9,479.1 L1865.4,479.2 L1866.9,479.4 L1868.4,479.6 L1869.9,479.7 L1871.5,479.9 L1873.0,480.0 L1874.5,480.2 L1876.0,480.3 L1877.5,480.4 L1879.0,480.6 L1880.5,480.7 L1882.1,480.9 L1883.6,481.0 L1885.1,481.2 L1886.6,481.3 L1888.2,481.5 L1889.7,481.6 L1891.0,481.7 M1923.0,484.6 L1923.4,484.6 L1924.9,484.7 L1926.4,484.8 L1927.9,485.0 L1929.4,485.1 L1931.0,485.2 L1932.5,485.4 L1934.0,485.5 L1935.5,485.6 L1937.0,485.7 L1938.5,485.9 L1940.0,486.0 L1941.5,486.1 L1943.1,486.3 L1944.7,486.4 L1946.2,486.5 L1947.8,486.7 L1949.4,486.8 L1951.0,486.9 L1952.6,487.1 L1954.2,487.2 L1955.8,487.3 L1956.0,487.3 M1986.7,489.8 L1987.2,489.8 L1988.7,489.9 L1990.1,490.0 L1991.5,490.2 L1992.9,490.3 L1994.3,490.4 L1995.6,490.5 L1997.0,490.6 L1998.3,490.7 L1999.5,490.8 L2000.8,490.9 L2002.0,491.0 L2004.0,491.2 L2006.1,491.3 L2008.0,491.5 L2010.0,491.7 L2011.9,491.8 L2013.8,492.0 L2015.6,492.1 L2017.0,492.2" fill="none" stroke="#ad0e0e" stroke-width="6.4" stroke-linejoin="round" stroke-linecap="butt" clip-path="url(#cTop)"/>
<polyline points="221.3,1006.5 222.6,1006.7 224.2,1006.9 226.2,1007.1 228.4,1007.4 230.7,1007.7 233.1,1008.0 235.5,1008.3 237.9,1008.7 240.0,1009.0 241.9,1009.4 243.6,1009.8 245.2,1010.2 246.7,1010.6 248.4,1011.1 250.2,1011.5 252.4,1011.9 255.0,1012.2 258.0,1012.5 259.4,1012.6 260.8,1012.7 262.2,1012.8 263.7,1012.9 265.1,1012.9 266.6,1013.0 268.1,1013.0 269.6,1013.1 271.3,1013.1 273.0,1013.2 274.8,1013.2 276.7,1013.2 278.7,1013.3 280.8,1013.3 283.1,1013.3 285.5,1013.4 288.0,1013.4 290.7,1013.4 293.6,1013.4 296.7,1013.5 300.0,1013.5 301.4,1013.5 302.9,1013.5 304.5,1013.5 306.0,1013.6 307.7,1013.6 309.3,1013.6 311.0,1013.6 312.7,1013.6 314.5,1013.6 316.3,1013.6 318.1,1013.6 320.0,1013.7 321.9,1013.7 323.8,1013.7 325.7,1013.7 327.7,1013.7 329.7,1013.7 331.7,1013.7 333.8,1013.7 335.8,1013.7 337.9,1013.7 340.0,1013.8 342.1,1013.8 344.2,1013.8 346.4,1013.8 348.5,1013.8 350.7,1013.8 352.9,1013.8 355.0,1013.8 357.2,1013.8 359.4,1013.8 361.6,1013.8 363.8,1013.8 366.0,1013.9 368.2,1013.9 370.4,1013.9 372.5,1013.9 374.7,1013.9 376.9,1013.9 379.1,1013.9 381.2,1013.9 383.4,1013.9 385.5,1013.9 387.6,1013.9 389.7,1014.0 391.8,1014.0 393.9,1014.0 396.0,1014.0 398.0,1014.0 400.0,1014.0 402.0,1014.0 404.0,1014.0 406.1,1014.0 408.1,1014.0 410.2,1014.0 412.3,1014.1 414.3,1014.1 416.4,1014.1 418.5,1014.1 420.6,1014.1 422.8,1014.1 424.9,1014.1 427.0,1014.1 429.1,1014.1 431.3,1014.1 433.4,1014.1 435.5,1014.2 437.7,1014.2 439.8,1014.2 441.9,1014.2 444.0,1014.2 446.2,1014.2 448.3,1014.2 450.4,1014.2 452.5,1014.2 454.6,1014.2 456.7,1014.2 458.8,1014.2 460.8,1014.3 462.9,1014.3 464.9,1014.3 466.9,1014.3 469.0,1014.3 471.0,1014.3 472.9,1014.3 474.9,1014.3 476.8,1014.3 478.8,1014.3 480.7,1014.4 482.6,1014.4 484.4,1014.4 486.3,1014.4 488.1,1014.4 489.9,1014.4 491.6,1014.4 493.4,1014.4 495.1,1014.5 496.7,1014.5 498.4,1014.5 500.0,1014.5 502.6,1014.5 505.2,1014.6 507.7,1014.6 510.2,1014.6 512.5,1014.6 514.9,1014.7 517.2,1014.7 519.4,1014.7 521.6,1014.8 523.7,1014.8 525.8,1014.9 527.8,1014.9 529.8,1014.9 531.8,1015.0 533.8,1015.0 535.7,1015.0 537.5,1015.1 539.4,1015.1 541.2,1015.1 543.0,1015.2 544.7,1015.2 546.5,1015.3 548.2,1015.3 549.9,1015.3 551.6,1015.4 553.3,1015.4 555.0,1015.4 556.7,1015.4 558.3,1015.5 560.0,1015.5 562.5,1015.5 564.9,1015.6 567.2,1015.6 569.4,1015.7 571.6,1015.7 573.8,1015.7 575.9,1015.8 577.9,1015.8 579.9,1015.8 581.9,1015.9 583.8,1015.9 585.7,1015.9 587.5,1016.0 589.4,1016.0 591.2,1016.0 593.0,1016.0 594.7,1016.0 596.5,1016.0 598.2,1016.0 600.0,1016.0 602.3,1016.0 604.5,1016.0 606.7,1016.0 608.8,1015.9 610.9,1015.9 613.0,1015.9 615.0,1015.9 616.9,1015.8 618.8,1015.8 620.7,1015.7 622.6,1015.6 624.5,1015.5 626.3,1015.3 628.2,1015.2 630.0,1015.0 632.2,1014.7 634.4,1014.4 636.5,1014.0 638.6,1013.6 640.6,1013.2 642.6,1012.7 644.6,1012.3 646.6,1011.8 648.7,1011.3 650.7,1010.9 652.8,1010.4 655.0,1010.0 656.9,1009.6 658.9,1009.3 660.9,1008.9 663.0,1008.5 665.0,1008.1 667.1,1007.7 669.2,1007.3 671.3,1006.9 673.3,1006.6 675.3,1006.3 677.3,1006.0 679.3,1005.8 681.2,1005.6 683.0,1005.5 685.2,1005.4 687.4,1005.5 689.6,1005.6 691.7,1005.7 693.7,1005.9 695.7,1006.2 697.6,1006.5 699.5,1006.8 701.4,1007.2 703.2,1007.6 705.0,1008.0 707.1,1008.6 709.1,1009.4 710.9,1010.3 712.7,1011.2 714.5,1012.2 716.3,1013.1 718.1,1013.9 720.0,1014.5 722.0,1015.0 723.9,1015.2 725.7,1015.4 727.6,1015.4 729.5,1015.4 731.4,1015.3 733.4,1015.1 735.5,1014.9 737.6,1014.6 739.7,1014.3 742.0,1014.0 743.8,1013.7 745.7,1013.3 747.7,1012.8 749.7,1012.3 751.7,1011.8 753.8,1011.2 755.9,1010.7 758.0,1010.1 760.1,1009.6 762.2,1009.2 764.2,1008.9 766.1,1008.6 768.0,1008.5 770.2,1008.5 772.3,1008.7 774.4,1008.9 776.5,1009.3 778.6,1009.7 780.6,1010.2 782.6,1010.7 784.5,1011.2 786.4,1011.7 788.2,1012.1 790.0,1012.5 792.4,1013.0 794.6,1013.5 796.7,1014.0 798.8,1014.6 800.8,1015.0 802.7,1015.5 804.7,1015.8 806.7,1016.0 809.0,1016.1 811.2,1016.1 813.4,1016.0 815.5,1015.8 817.7,1015.5 819.8,1015.3 822.0,1015.0 824.2,1014.8 826.4,1014.5 828.5,1014.2 830.7,1013.9 832.9,1013.5 835.1,1013.1 837.3,1012.7 839.2,1012.2 841.2,1011.7 843.1,1011.1 845.0,1010.5 847.0,1009.9 849.0,1009.4 851.1,1009.0 853.3,1008.7 855.2,1008.6 857.1,1008.5 859.2,1008.5 861.3,1008.5 863.5,1008.6 865.6,1008.7 867.7,1008.9 869.7,1009.0 871.5,1009.2 873.3,1009.3 875.9,1009.5 878.3,1009.8 880.4,1010.0 882.5,1010.4 884.5,1010.8 886.7,1011.3 888.6,1011.9 890.5,1012.6 892.4,1013.5 894.3,1014.3 896.2,1015.1 898.1,1015.7 900.0,1016.0 902.2,1016.1 904.4,1015.8 906.6,1015.4 908.9,1014.9 911.1,1014.4 913.3,1014.0 915.5,1013.6 917.8,1013.2 920.0,1012.7 922.2,1012.3 924.5,1012.1 926.7,1012.0 928.9,1012.2 931.1,1012.6 933.4,1013.1 935.6,1013.7 937.8,1014.2 940.0,1014.7 942.1,1015.1 943.9,1015.5 945.8,1015.9 947.9,1016.2 950.3,1016.5 953.3,1016.7 954.9,1016.8 956.7,1016.8 958.7,1016.8 960.7,1016.8 962.9,1016.8 965.1,1016.7 967.4,1016.7 969.6,1016.6 971.8,1016.6 974.0,1016.6 976.1,1016.6 978.1,1016.6 980.0,1016.7 982.3,1016.8 984.5,1016.9 986.7,1017.1 988.8,1017.3 990.8,1017.5 992.8,1017.7 994.7,1017.9 996.5,1018.1 998.3,1018.4 1000.0,1018.7 1002.6,1019.2 1004.9,1019.9 1007.1,1020.5 1009.1,1021.2 1011.2,1022.0 1013.3,1022.7 1015.2,1023.3 1017.1,1023.9 1019.0,1024.6 1021.0,1025.2 1022.9,1025.9 1024.8,1026.6 1026.7,1027.3 1028.6,1028.0 1030.6,1028.7 1032.5,1029.5 1034.4,1030.2 1036.3,1031.1 1038.2,1032.0 1040.0,1033.0 1041.8,1034.2 1043.5,1035.5 1045.2,1036.9 1046.9,1038.4 1048.5,1039.8 1050.0,1041.2 1051.5,1042.5 1053.5,1044.2 1055.3,1045.7 1057.0,1047.2 1058.6,1048.6 1060.0,1050.0 1061.8,1052.0 1063.3,1053.9 1064.5,1056.0 1065.3,1057.6 1066.1,1059.3 1066.8,1061.4 1067.6,1064.5 1068.0,1066.1 1068.4,1068.0 1068.8,1070.0 1069.3,1072.2 1069.7,1074.4 1070.2,1076.8 1070.7,1079.1 1071.1,1081.5 1071.6,1083.8 1072.0,1086.0 1072.4,1088.2 1072.8,1090.3 1073.2,1092.5 1073.6,1094.6 1074.0,1096.8 1074.4,1098.9 1074.9,1101.0 1075.3,1103.2 1075.7,1105.3 1076.2,1107.5 1076.6,1109.5 1077.1,1111.4 1077.6,1113.4 1078.1,1115.3 1078.6,1117.3 1079.1,1119.2 1079.7,1121.2 1080.2,1123.1 1080.7,1125.1 1081.1,1127.0 1081.6,1129.0 1082.1,1131.2 1082.5,1133.4 1083.0,1135.6 1083.4,1137.8 1083.9,1140.0 1084.3,1142.2 1084.7,1144.4 1085.1,1146.5 1085.6,1148.5 1086.0,1150.5 1086.5,1152.9 1087.1,1155.1 1087.6,1157.3 1088.1,1159.4 1088.6,1161.4 1089.1,1163.5 1089.7,1165.6 1090.2,1167.7 1090.7,1169.8 1091.3,1171.9 1091.8,1174.0 1092.3,1176.1 1092.9,1178.2 1093.4,1180.4 1094.0,1182.6 1094.5,1185.0 1094.9,1187.0 1095.3,1189.0 1095.8,1191.1 1096.2,1193.3 1096.6,1195.5 1097.0,1197.7 1097.4,1199.9 1097.9,1202.1 1098.3,1204.3 1098.8,1206.5 1099.2,1208.5 1099.7,1210.5 1100.1,1212.5 1100.6,1214.5 1101.1,1216.5 1101.5,1218.5 1102.0,1220.5 1102.5,1222.4 1103.1,1224.4 1103.6,1226.2 1104.2,1228.0 1104.9,1230.1 1105.7,1232.2 1106.5,1234.1 1107.3,1236.1 1108.2,1237.9 1109.0,1239.8 1109.9,1241.6 1110.8,1243.4 1111.7,1245.2 1112.7,1247.2 1113.8,1249.2 1114.8,1251.1 1115.9,1253.0 1117.0,1254.8 1118.1,1256.7 1119.2,1258.4 1120.3,1260.2 1121.5,1262.2 1122.7,1264.1 1123.8,1265.9 1125.0,1267.8 1126.2,1269.5 1127.5,1271.3 1129.0,1273.0 1130.4,1274.5 1131.8,1275.9 1133.3,1277.3 1134.9,1278.7 1136.5,1280.1 1138.2,1281.4 1140.0,1282.7 1141.8,1283.9 1143.5,1285.0 1145.3,1286.0 1147.2,1287.1 1149.1,1288.1 1151.1,1289.0 1153.1,1290.0 1155.1,1290.9 1157.1,1291.7 1159.0,1292.5 1161.2,1293.3 1163.3,1294.1 1165.5,1294.9 1167.6,1295.5 1169.8,1296.2 1171.9,1296.8 1174.0,1297.3 1176.2,1297.8 1178.4,1298.2 1180.6,1298.6 1182.8,1298.9 1185.1,1299.1 1187.3,1299.3 1189.4,1299.5 1191.5,1299.8 1193.4,1300.0 1195.8,1300.3 1198.2,1300.4 1200.4,1300.6 1202.5,1300.8 1204.4,1301.3 1206.3,1302.0 1207.9,1303.1 1209.3,1304.6 1210.5,1306.3 1211.8,1308.0 1213.2,1309.6 1215.0,1311.0 1216.9,1312.0 1219.0,1312.9 1221.3,1313.7 1223.6,1314.5 1225.9,1315.2 1228.1,1315.9 1230.0,1316.5 1231.8,1317.3 1232.9,1317.9 1234.1,1318.5 1236.2,1319.0 1240.0,1319.5 1241.3,1319.6 1242.8,1319.8 1244.4,1319.9 1246.1,1320.1 1247.9,1320.2 1249.8,1320.3 1251.8,1320.5 1253.8,1320.6 1256.0,1320.7 1258.1,1320.9 1260.3,1321.0 1262.6,1321.1 1264.8,1321.3 1267.1,1321.4 1269.3,1321.5 1271.5,1321.6 1273.7,1321.7 1275.9,1321.8 1278.0,1321.9 1280.0,1322.0 1282.0,1322.1 1284.0,1322.2 1286.0,1322.2 1288.0,1322.3 1290.0,1322.4 1292.0,1322.5 1294.0,1322.5 1296.0,1322.6 1298.0,1322.6 1300.0,1322.7 1302.0,1322.7 1304.0,1322.8 1306.0,1322.8 1308.0,1322.9 1310.0,1322.9 1312.0,1322.9 1314.0,1322.9 1316.0,1323.0 1318.0,1323.0 1320.0,1323.0 1322.0,1323.0 1324.1,1323.0 1326.2,1323.0 1328.3,1323.0 1330.5,1323.0 1332.6,1323.0 1334.8,1323.0 1337.0,1323.0 1339.1,1323.0 1341.2,1323.0 1343.4,1323.0 1345.4,1323.0 1347.5,1322.9 1349.5,1322.9 1351.4,1322.8 1353.3,1322.8 1355.1,1322.7 1356.8,1322.7 1358.5,1322.6 1360.0,1322.5 1362.8,1322.3 1365.3,1322.0 1367.5,1321.7 1369.4,1321.4 1371.2,1321.1 1373.0,1320.7 1374.6,1320.4 1376.3,1320.0 1378.1,1319.8 1380.0,1319.5 1382.0,1319.3 1384.0,1319.1 1386.0,1318.9 1388.0,1318.7 1390.0,1318.6 1392.0,1318.4 1394.0,1318.3 1396.0,1318.2 1398.0,1318.1 1400.0,1318.0 1402.0,1317.9 1404.0,1317.9 1406.0,1317.8 1408.0,1317.8 1410.0,1317.8 1412.0,1317.8 1414.0,1317.8 1416.0,1317.8 1418.0,1317.9 1420.0,1318.0 1422.0,1318.1 1424.0,1318.2 1426.0,1318.4 1428.0,1318.6 1430.0,1318.8 1432.0,1319.0 1434.0,1319.2 1436.0,1319.5 1438.0,1319.7 1440.0,1320.0 1442.0,1320.3 1444.0,1320.7 1446.0,1321.1 1448.0,1321.5 1450.0,1321.9 1452.0,1322.3 1454.0,1322.7 1456.0,1323.0 1458.0,1323.3 1460.0,1323.5 1462.0,1323.6 1464.0,1323.7 1466.0,1323.8 1468.0,1323.8 1470.0,1323.8 1472.0,1323.7 1474.0,1323.6 1476.0,1323.4 1478.0,1323.2 1480.0,1323.0 1482.0,1322.7 1484.0,1322.3 1486.0,1321.9 1488.0,1321.4 1490.0,1320.8 1492.0,1320.3 1494.0,1319.8 1496.0,1319.3 1498.0,1318.9 1500.0,1318.5 1502.0,1318.2 1504.0,1317.9 1506.0,1317.6 1508.0,1317.4 1510.0,1317.1 1512.0,1316.9 1514.0,1316.8 1516.0,1316.6 1518.0,1316.5 1520.0,1316.5 1522.0,1316.5 1524.0,1316.5 1526.0,1316.6 1528.0,1316.7 1530.0,1316.8 1532.0,1317.0 1534.0,1317.2 1536.0,1317.5 1538.0,1317.7 1540.0,1318.0 1542.0,1318.3 1544.0,1318.8 1546.0,1319.2 1548.0,1319.7 1550.0,1320.2 1552.0,1320.8 1554.0,1321.3 1556.0,1321.7 1558.0,1322.2 1560.0,1322.5 1562.0,1322.8 1564.0,1323.0 1566.0,1323.3 1568.0,1323.5 1570.0,1323.7 1572.0,1323.8 1574.0,1323.9 1576.0,1324.0 1578.0,1324.0 1580.0,1324.0 1581.9,1324.0 1583.7,1323.9 1585.4,1323.7 1587.0,1323.5 1588.8,1323.3 1590.6,1323.1 1592.5,1322.9 1594.7,1322.6 1597.2,1322.3 1600.0,1322.0 1601.5,1321.8 1603.1,1321.7 1604.7,1321.5 1606.4,1321.3 1608.1,1321.0 1609.9,1320.8 1611.7,1320.6 1613.6,1320.4 1615.5,1320.1 1617.5,1319.9 1619.5,1319.6 1621.6,1319.4 1623.7,1319.2 1625.9,1319.0 1628.1,1318.8 1630.4,1318.6 1632.7,1318.4 1635.1,1318.2 1637.5,1318.1 1640.0,1318.0 1641.7,1317.9 1643.5,1317.9 1645.3,1317.8 1647.2,1317.8 1649.1,1317.7 1651.1,1317.7 1653.2,1317.7 1655.2,1317.6 1657.3,1317.6 1659.4,1317.6 1661.6,1317.6 1663.8,1317.6 1665.9,1317.6 1668.1,1317.6 1670.3,1317.6 1672.5,1317.6 1674.7,1317.6 1676.8,1317.6 1679.0,1317.6 1681.1,1317.6 1683.2,1317.7 1685.3,1317.7 1687.3,1317.7 1689.3,1317.7 1691.2,1317.8 1693.1,1317.8 1694.9,1317.9 1696.7,1317.9 1698.4,1318.0 1700.0,1318.0 1702.7,1318.1 1705.3,1318.2 1707.8,1318.3 1710.2,1318.4 1712.4,1318.6 1714.6,1318.7 1716.7,1318.8 1718.7,1319.0 1720.7,1319.2 1722.5,1319.4 1724.4,1319.6 1726.2,1319.8 1728.0,1320.0 1729.7,1320.2 1731.5,1320.5 1733.2,1320.7 1735.0,1321.0 1737.4,1321.4 1739.7,1321.9 1742.0,1322.5 1744.1,1323.1 1746.1,1323.7 1748.1,1324.3 1750.1,1324.9 1752.0,1325.5 1754.0,1326.1 1755.9,1326.6 1757.9,1327.1 1760.0,1327.5 1762.1,1327.9 1764.2,1328.2 1766.2,1328.5 1768.3,1328.8 1770.4,1329.0 1772.5,1329.2 1774.6,1329.4 1776.7,1329.6 1778.8,1329.7 1780.8,1329.8 1782.9,1329.9 1785.0,1330.0 1787.1,1330.1 1789.2,1330.1 1791.3,1330.1 1793.4,1330.1 1795.5,1330.1 1797.6,1330.1 1799.7,1330.0 1801.8,1329.9 1803.9,1329.8 1805.9,1329.6 1808.0,1329.3 1810.0,1329.0 1812.0,1328.6 1813.9,1328.2 1815.8,1327.6 1817.7,1327.0 1819.5,1326.4 1821.4,1325.8 1823.2,1325.1 1825.1,1324.4 1827.0,1323.8 1829.0,1323.1 1830.9,1322.5 1833.0,1322.0 1834.9,1321.5 1836.8,1321.1 1838.7,1320.6 1840.6,1320.2 1842.5,1319.7 1844.4,1319.3 1846.4,1318.9 1848.5,1318.5 1850.6,1318.2 1852.8,1317.8 1855.1,1317.5 1857.5,1317.2 1860.0,1317.0 1861.7,1316.9 1863.5,1316.7 1865.3,1316.6 1867.2,1316.5 1869.1,1316.4 1871.0,1316.3 1873.0,1316.3 1875.1,1316.2 1877.1,1316.2 1879.2,1316.1 1881.3,1316.1 1883.4,1316.1 1885.5,1316.0 1887.6,1316.0 1889.7,1316.0 1891.8,1316.0 1893.9,1316.0 1895.9,1316.0 1898.0,1316.0 1900.0,1316.0 1902.0,1316.0 1904.1,1316.0 1906.1,1316.0 1908.2,1316.0 1910.4,1316.1 1912.5,1316.1 1914.6,1316.1 1916.7,1316.2 1918.8,1316.2 1920.9,1316.2 1923.0,1316.3 1925.1,1316.4 1927.1,1316.4 1929.1,1316.5 1931.1,1316.6 1933.0,1316.6 1934.8,1316.7 1936.6,1316.8 1938.3,1316.9 1940.0,1317.0 1942.6,1317.2 1945.1,1317.4 1947.5,1317.6 1949.7,1317.9 1951.8,1318.1 1953.9,1318.4 1955.8,1318.6 1957.7,1318.9 1959.6,1319.2 1961.4,1319.5 1963.2,1319.7 1965.0,1320.0 1967.3,1320.4 1969.5,1320.8 1971.6,1321.2 1973.5,1321.6 1975.5,1322.0 1977.3,1322.4 1979.2,1322.7 1981.1,1322.9 1983.0,1323.0 1985.0,1323.0 1986.8,1322.9 1988.5,1322.7 1990.2,1322.4 1992.1,1322.1 1994.3,1321.8 1996.8,1321.4 2000.0,1321.0 2001.6,1320.8 2003.3,1320.6 2005.3,1320.4 2007.4,1320.2 2009.6,1320.0 2011.9,1319.7 2014.3,1319.5 2016.7,1319.3 2019.1,1319.0 2021.6,1318.8 2024.0,1318.5 2026.3,1318.3 2028.5,1318.0 2030.6,1317.8 2032.6,1317.6 2034.4,1317.4 2036.1,1317.3 2037.5,1317.1 2038.6,1317.0" fill="none" stroke="#0a0aa6" stroke-width="6.4" stroke-linejoin="round" stroke-linecap="butt" clip-path="url(#cBot)"/>
<polyline points="221.3,1017.0 222.4,1017.0 223.5,1017.0 224.7,1017.0 226.0,1017.0 227.4,1017.0 228.9,1017.0 230.4,1017.0 232.0,1017.0 233.7,1017.0 235.4,1017.0 237.2,1017.0 239.0,1017.0 240.9,1017.0 242.9,1017.0 244.9,1017.0 246.9,1017.0 249.0,1017.0 251.1,1017.0 253.3,1017.0 255.5,1017.0 257.7,1017.0 260.0,1017.0 262.3,1017.0 264.6,1017.0 266.9,1017.0 269.3,1017.0 271.6,1017.0 274.0,1017.0 276.4,1017.0 278.8,1017.0 281.2,1017.0 283.5,1017.0 285.9,1017.0 288.3,1017.0 290.7,1017.0 293.0,1017.0 295.4,1017.0 297.7,1017.0 300.0,1017.0 301.8,1017.0 303.6,1017.0 305.4,1017.0 307.3,1017.0 309.1,1017.0 311.0,1017.0 312.9,1017.0 314.8,1017.0 316.7,1017.0 318.6,1017.0 320.6,1017.0 322.5,1017.0 324.5,1017.0 326.5,1017.0 328.4,1017.0 330.4,1017.0 332.4,1017.0 334.4,1017.0 336.4,1017.0 338.5,1017.0 340.5,1017.0 342.5,1017.0 344.6,1017.0 346.6,1017.0 348.7,1017.0 350.7,1017.0 352.8,1017.0 354.8,1017.0 356.9,1017.0 359.0,1017.0 361.0,1017.0 363.1,1017.0 365.2,1017.0 367.3,1017.0 369.3,1017.0 371.4,1017.0 373.5,1017.0 375.5,1017.0 377.6,1017.0 379.7,1017.0 381.7,1017.0 383.8,1017.0 385.8,1017.0 387.9,1017.0 389.9,1017.0 391.9,1017.0 394.0,1017.0 396.0,1017.0 398.0,1017.0 400.0,1017.0 402.0,1017.0 404.0,1017.0 406.1,1017.0 408.1,1017.0 410.2,1017.0 412.3,1017.0 414.3,1017.0 416.4,1017.0 418.5,1017.0 420.6,1017.0 422.8,1017.0 424.9,1017.0 427.0,1017.0 429.1,1017.0 431.3,1017.0 433.4,1017.0 435.5,1017.0 437.7,1017.0 439.8,1017.0 441.9,1017.0 444.0,1017.0 446.2,1017.0 448.3,1017.0 450.4,1017.0 452.5,1017.0 454.6,1017.0 456.7,1017.0 458.8,1017.0 460.8,1017.0 462.9,1017.0 464.9,1017.0 466.9,1017.0 469.0,1017.0 471.0,1017.0 472.9,1017.0 474.9,1017.0 476.8,1017.0 478.8,1017.0 480.7,1017.0 482.6,1017.0 484.4,1017.0 486.3,1017.0 488.1,1017.0 489.9,1017.0 491.6,1017.0 493.4,1017.0 495.1,1017.0 496.7,1017.0 498.4,1017.0 500.0,1017.0 502.6,1017.0 505.2,1017.0 507.7,1017.0 510.1,1017.0 512.5,1017.0 514.8,1017.0 517.0,1017.0 519.2,1017.1 521.4,1017.1 523.5,1017.1 525.6,1017.1 527.6,1017.1 529.5,1017.1 531.5,1017.1 533.4,1017.1 535.3,1017.1 537.1,1017.1 538.9,1017.2 540.8,1017.2 542.5,1017.2 544.3,1017.2 546.1,1017.2 547.8,1017.2 549.6,1017.3 551.3,1017.3 553.0,1017.3 554.8,1017.3 556.5,1017.3 558.2,1017.4 560.0,1017.4 562.4,1017.4 564.7,1017.5 567.0,1017.5 569.2,1017.6 571.4,1017.6 573.5,1017.7 575.6,1017.8 577.7,1017.8 579.7,1017.9 581.7,1018.0 583.7,1018.0 585.7,1018.1 587.7,1018.2 589.7,1018.2 591.7,1018.3 593.6,1018.3 595.6,1018.4 597.6,1018.5 599.6,1018.5 601.6,1018.5 603.6,1018.6 605.7,1018.6 607.8,1018.6 609.8,1018.6 611.9,1018.6 614.0,1018.6 616.0,1018.6 618.1,1018.6 620.1,1018.6 622.2,1018.6 624.3,1018.6 626.3,1018.6 628.4,1018.5 630.4,1018.5 632.5,1018.5 634.6,1018.5 636.6,1018.5 638.7,1018.4 640.8,1018.4 642.9,1018.4 645.0,1018.4 647.1,1018.5 649.3,1018.5 651.4,1018.5 653.4,1018.5 655.4,1018.6 657.5,1018.6 659.5,1018.7 661.6,1018.7 663.7,1018.8 665.9,1018.8 668.0,1018.9 670.2,1018.9 672.3,1019.0 674.5,1019.1 676.6,1019.1 678.7,1019.2 680.8,1019.3 682.9,1019.3 685.0,1019.4 687.0,1019.5 689.0,1019.6 690.9,1019.6 692.9,1019.7 694.7,1019.8 696.5,1019.9 698.3,1019.9 700.0,1020.0 702.6,1020.1 704.9,1020.2 707.1,1020.4 709.2,1020.5 711.1,1020.6 713.0,1020.8 714.8,1020.9 716.6,1021.0 718.4,1021.2 720.3,1021.3 722.2,1021.5 724.3,1021.6 726.5,1021.7 728.8,1021.9 731.4,1022.0 733.1,1022.1 734.9,1022.2 736.8,1022.3 738.8,1022.3 740.8,1022.4 742.9,1022.5 745.0,1022.6 747.1,1022.7 749.3,1022.8 751.5,1022.9 753.8,1023.0 756.0,1023.1 758.2,1023.2 760.4,1023.3 762.6,1023.3 764.8,1023.4 766.9,1023.5 769.0,1023.6 771.0,1023.7 773.0,1023.7 774.9,1023.8 776.7,1023.9 778.4,1023.9 780.0,1024.0 782.8,1024.1 785.3,1024.2 787.7,1024.2 789.8,1024.2 791.9,1024.3 793.8,1024.3 795.6,1024.3 797.4,1024.4 799.2,1024.4 801.0,1024.4 802.8,1024.5 804.7,1024.6 806.7,1024.7 808.8,1024.8 810.9,1025.0 813.1,1025.1 815.3,1025.3 817.5,1025.5 819.7,1025.7 821.9,1025.9 824.0,1026.1 826.1,1026.3 828.1,1026.6 829.9,1026.8 831.7,1027.0 833.3,1027.3 835.9,1027.8 838.1,1028.4 840.0,1029.0 841.7,1029.6 843.3,1030.2 844.9,1030.9 846.7,1031.5 848.6,1032.1 850.5,1032.7 852.4,1033.4 854.3,1034.0 856.2,1034.6 858.1,1035.3 860.0,1036.0 861.9,1036.7 863.8,1037.5 865.7,1038.2 867.6,1039.0 869.5,1039.8 871.4,1040.6 873.3,1041.3 875.2,1042.0 877.1,1042.6 879.0,1043.3 881.0,1043.9 882.9,1044.5 884.8,1045.2 886.7,1046.0 888.6,1046.9 890.5,1047.8 892.4,1048.8 894.3,1049.8 896.2,1050.8 898.1,1051.8 900.0,1052.7 901.9,1053.6 903.8,1054.4 905.8,1055.2 907.7,1056.0 909.6,1056.8 911.5,1057.7 913.3,1058.7 915.0,1059.7 916.6,1060.8 918.0,1061.8 919.6,1063.0 921.3,1064.2 923.2,1065.5 925.6,1067.0 927.1,1067.9 928.6,1068.8 930.3,1069.7 932.1,1070.7 933.9,1071.7 935.8,1072.8 937.8,1073.9 939.7,1074.9 941.7,1076.0 943.7,1077.1 945.6,1078.2 947.5,1079.3 949.4,1080.4 951.2,1081.5 953.1,1082.6 954.9,1083.6 956.7,1084.7 958.6,1085.8 960.4,1086.9 962.2,1088.0 964.0,1089.2 965.9,1090.3 967.7,1091.4 969.5,1092.5 971.4,1093.6 973.2,1094.7 975.0,1095.8 976.8,1096.9 978.6,1098.0 980.4,1099.1 982.2,1100.2 983.9,1101.3 985.7,1102.4 987.5,1103.5 989.4,1104.6 991.2,1105.7 993.1,1106.8 995.0,1107.9 997.0,1109.0 998.8,1110.0 1000.6,1110.9 1002.4,1111.9 1004.3,1112.9 1006.2,1113.8 1008.1,1114.8 1010.1,1115.8 1012.0,1116.7 1014.0,1117.7 1015.9,1118.7 1017.8,1119.7 1019.7,1120.6 1021.5,1121.6 1023.3,1122.5 1025.0,1123.5 1026.9,1124.6 1028.8,1125.7 1030.6,1126.7 1032.4,1127.8 1034.1,1128.8 1035.8,1129.9 1037.5,1130.9 1039.2,1132.0 1040.9,1133.0 1042.7,1134.1 1044.4,1135.3 1046.2,1136.4 1048.0,1137.6 1049.6,1138.7 1051.3,1139.8 1053.0,1140.9 1054.8,1142.0 1056.6,1143.2 1058.3,1144.4 1060.1,1145.5 1061.9,1146.7 1063.6,1147.9 1065.3,1149.1 1067.0,1150.3 1068.6,1151.4 1070.2,1152.6 1071.6,1153.7 1073.0,1154.8 1074.9,1156.4 1076.6,1157.9 1078.2,1159.4 1079.6,1160.9 1081.0,1162.4 1082.3,1163.8 1083.6,1165.3 1085.0,1166.8 1086.5,1168.3 1088.0,1169.9 1089.4,1171.3 1090.8,1172.6 1092.2,1174.0 1093.7,1175.4 1095.2,1176.9 1096.7,1178.3 1098.1,1179.8 1099.6,1181.2 1101.1,1182.7 1102.5,1184.1 1103.9,1185.6 1105.3,1187.0 1106.8,1188.6 1108.2,1190.2 1109.6,1191.8 1111.0,1193.4 1112.4,1195.0 1113.8,1196.6 1115.1,1198.2 1116.4,1199.7 1117.7,1201.3 1119.0,1202.8 1120.3,1204.3 1121.8,1206.1 1123.2,1207.8 1124.6,1209.4 1125.9,1211.0 1127.3,1212.7 1128.7,1214.3 1130.1,1215.9 1131.6,1217.6 1133.2,1219.4 1134.5,1220.8 1135.8,1222.1 1137.2,1223.6 1138.6,1225.0 1140.1,1226.4 1141.5,1227.9 1143.0,1229.3 1144.5,1230.8 1146.0,1232.3 1147.5,1233.7 1149.0,1235.2 1150.4,1236.6 1151.8,1238.0 1153.3,1239.5 1154.7,1241.0 1156.1,1242.4 1157.6,1243.9 1159.0,1245.3 1160.4,1246.8 1161.9,1248.2 1163.3,1249.7 1164.7,1251.1 1166.2,1252.4 1167.6,1253.8 1169.2,1255.3 1170.7,1256.7 1172.3,1258.2 1173.9,1259.6 1175.4,1261.0 1177.0,1262.4 1178.5,1263.7 1180.1,1265.1 1181.7,1266.4 1183.2,1267.6 1184.8,1268.8 1186.5,1270.1 1188.3,1271.3 1190.0,1272.4 1191.8,1273.5 1193.5,1274.6 1195.3,1275.6 1197.0,1276.7 1198.7,1277.6 1200.4,1278.6 1202.0,1279.6 1204.0,1280.8 1206.0,1282.0 1207.9,1283.2 1209.8,1284.3 1211.6,1285.4 1213.4,1286.4 1215.2,1287.3 1217.0,1288.2 1219.3,1289.2 1221.6,1290.0 1223.8,1290.7 1226.0,1291.4 1228.0,1291.9 1230.0,1292.5 1232.0,1293.1 1233.7,1293.5 1235.4,1293.9 1237.4,1294.4 1240.0,1295.0 1241.5,1295.4 1243.2,1295.9 1245.0,1296.3 1246.8,1296.9 1248.8,1297.4 1250.8,1298.0 1253.0,1298.5 1255.2,1299.0 1257.5,1299.5 1260.0,1300.0 1261.7,1300.3 1263.5,1300.6 1265.4,1300.9 1267.3,1301.2 1269.3,1301.4 1271.3,1301.7 1273.3,1302.0 1275.4,1302.2 1277.5,1302.5 1279.6,1302.7 1281.7,1303.0 1283.8,1303.2 1285.9,1303.5 1288.0,1303.7 1290.0,1304.0 1292.0,1304.2 1293.9,1304.5 1295.8,1304.7 1297.7,1305.0 1299.6,1305.2 1301.5,1305.5 1303.4,1305.7 1305.3,1306.0 1307.3,1306.2 1309.3,1306.4 1311.3,1306.7 1313.4,1306.9 1315.5,1307.1 1317.7,1307.3 1320.0,1307.5 1321.8,1307.6 1323.6,1307.8 1325.5,1307.9 1327.4,1308.1 1329.3,1308.2 1331.3,1308.3 1333.3,1308.5 1335.3,1308.6 1337.3,1308.7 1339.4,1308.8 1341.4,1309.0 1343.5,1309.1 1345.6,1309.2 1347.7,1309.3 1349.8,1309.4 1351.8,1309.5 1353.9,1309.7 1356.0,1309.8 1358.0,1309.9 1360.0,1310.0 1361.9,1310.1 1363.7,1310.2 1365.4,1310.3 1367.0,1310.4 1368.6,1310.5 1370.1,1310.6 1371.6,1310.7 1373.1,1310.8 1374.7,1310.9 1376.2,1311.0 1377.9,1311.1 1379.7,1311.2 1381.6,1311.2 1383.6,1311.3 1385.8,1311.4 1388.2,1311.5 1390.7,1311.7 1393.6,1311.8 1396.6,1311.9 1400.0,1312.0 1401.4,1312.1 1402.9,1312.1 1404.4,1312.2 1406.0,1312.2 1407.6,1312.3 1409.2,1312.3 1410.9,1312.4 1412.6,1312.4 1414.4,1312.5 1416.2,1312.6 1418.0,1312.6 1419.8,1312.7 1421.7,1312.7 1423.6,1312.8 1425.6,1312.9 1427.6,1312.9 1429.6,1313.0 1431.6,1313.1 1433.6,1313.1 1435.7,1313.2 1437.8,1313.3 1439.9,1313.3 1442.0,1313.4 1444.1,1313.5 1446.2,1313.5 1448.4,1313.6 1450.6,1313.7 1452.7,1313.7 1454.9,1313.8 1457.1,1313.9 1459.3,1313.9 1461.5,1314.0 1463.7,1314.1 1465.9,1314.1 1468.1,1314.2 1470.3,1314.2 1472.5,1314.3 1474.7,1314.4 1476.9,1314.4 1479.0,1314.5 1481.2,1314.5 1483.4,1314.6 1485.5,1314.6 1487.6,1314.7 1489.7,1314.8 1491.8,1314.8 1493.9,1314.9 1496.0,1314.9 1498.0,1315.0 1500.0,1315.0 1502.0,1315.0 1503.9,1315.1 1505.8,1315.1 1507.7,1315.2 1509.5,1315.2 1511.4,1315.3 1513.2,1315.3 1514.9,1315.3 1516.7,1315.4 1518.4,1315.4 1520.1,1315.4 1521.8,1315.5 1523.5,1315.5 1525.2,1315.5 1526.8,1315.6 1528.5,1315.6 1530.2,1315.6 1531.9,1315.7 1533.5,1315.7 1535.2,1315.7 1536.9,1315.8 1538.6,1315.8 1540.3,1315.8 1542.0,1315.8 1543.8,1315.9 1545.5,1315.9 1547.3,1315.9 1549.1,1316.0 1550.9,1316.0 1552.8,1316.0 1554.7,1316.0 1556.6,1316.1 1558.6,1316.1 1560.6,1316.1 1562.7,1316.1 1564.7,1316.2 1566.9,1316.2 1569.1,1316.2 1571.3,1316.2 1573.6,1316.3 1575.9,1316.3 1578.4,1316.3 1580.8,1316.3 1583.4,1316.4 1586.0,1316.4 1588.6,1316.4 1591.3,1316.4 1594.2,1316.5 1597.0,1316.5 1600.0,1316.5 1601.5,1316.5 1603.0,1316.5 1604.6,1316.5 1606.1,1316.5 1607.7,1316.6 1609.3,1316.6 1610.9,1316.6 1612.5,1316.6 1614.1,1316.6 1615.8,1316.6 1617.4,1316.6 1619.1,1316.6 1620.8,1316.7 1622.5,1316.7 1624.2,1316.7 1625.9,1316.7 1627.7,1316.7 1629.4,1316.7 1631.2,1316.7 1633.0,1316.7 1634.8,1316.8 1636.6,1316.8 1638.4,1316.8 1640.2,1316.8 1642.1,1316.8 1643.9,1316.8 1645.8,1316.8 1647.7,1316.8 1649.5,1316.8 1651.4,1316.9 1653.3,1316.9 1655.3,1316.9 1657.2,1316.9 1659.1,1316.9 1661.1,1316.9 1663.0,1316.9 1665.0,1316.9 1667.0,1316.9 1669.0,1316.9 1670.9,1317.0 1672.9,1317.0 1675.0,1317.0 1677.0,1317.0 1679.0,1317.0 1681.0,1317.0 1683.1,1317.0 1685.1,1317.0 1687.2,1317.0 1689.3,1317.1 1691.3,1317.1 1693.4,1317.1 1695.5,1317.1 1697.6,1317.1 1699.7,1317.1 1701.8,1317.1 1703.9,1317.1 1706.0,1317.1 1708.2,1317.1 1710.3,1317.2 1712.4,1317.2 1714.6,1317.2 1716.7,1317.2 1718.9,1317.2 1721.0,1317.2 1723.2,1317.2 1725.3,1317.2 1727.5,1317.2 1729.7,1317.2 1731.8,1317.2 1734.0,1317.3 1736.2,1317.3 1738.4,1317.3 1740.6,1317.3 1742.8,1317.3 1744.9,1317.3 1747.1,1317.3 1749.3,1317.3 1751.5,1317.3 1753.7,1317.3 1755.9,1317.3 1758.1,1317.3 1760.3,1317.4 1762.5,1317.4 1764.7,1317.4 1767.0,1317.4 1769.2,1317.4 1771.4,1317.4 1773.6,1317.4 1775.8,1317.4 1778.0,1317.4 1780.2,1317.4 1782.4,1317.4 1784.6,1317.4 1786.8,1317.5 1789.0,1317.5 1791.2,1317.5 1793.4,1317.5 1795.6,1317.5 1797.8,1317.5 1800.0,1317.5 1801.9,1317.5 1803.7,1317.5 1805.6,1317.5 1807.5,1317.5 1809.5,1317.5 1811.4,1317.5 1813.4,1317.5 1815.4,1317.5 1817.4,1317.6 1819.5,1317.6 1821.5,1317.6 1823.6,1317.6 1825.7,1317.6 1827.8,1317.6 1829.9,1317.6 1832.0,1317.6 1834.1,1317.6 1836.3,1317.6 1838.5,1317.6 1840.7,1317.6 1842.9,1317.6 1845.1,1317.6 1847.3,1317.6 1849.5,1317.6 1851.8,1317.6 1854.0,1317.7 1856.3,1317.7 1858.5,1317.7 1860.8,1317.7 1863.1,1317.7 1865.4,1317.7 1867.7,1317.7 1870.0,1317.7 1872.3,1317.7 1874.6,1317.7 1877.0,1317.7 1879.3,1317.7 1881.6,1317.7 1884.0,1317.7 1886.3,1317.7 1888.6,1317.7 1891.0,1317.7 1893.3,1317.7 1895.7,1317.7 1898.0,1317.7 1900.4,1317.8 1902.7,1317.8 1905.1,1317.8 1907.4,1317.8 1909.7,1317.8 1912.1,1317.8 1914.4,1317.8 1916.7,1317.8 1919.1,1317.8 1921.4,1317.8 1923.7,1317.8 1926.0,1317.8 1928.3,1317.8 1930.7,1317.8 1932.9,1317.8 1935.2,1317.8 1937.5,1317.8 1939.8,1317.8 1942.1,1317.8 1944.3,1317.8 1946.6,1317.8 1948.8,1317.8 1951.0,1317.8 1953.2,1317.9 1955.4,1317.9 1957.6,1317.9 1959.8,1317.9 1962.0,1317.9 1964.1,1317.9 1966.2,1317.9 1968.4,1317.9 1970.5,1317.9 1972.6,1317.9 1974.6,1317.9 1976.7,1317.9 1978.7,1317.9 1980.7,1317.9 1982.7,1317.9 1984.7,1317.9 1986.7,1317.9 1988.6,1317.9 1990.6,1317.9 1992.5,1317.9 1994.4,1317.9 1996.2,1317.9 1998.1,1317.9 1999.9,1317.9 2001.7,1317.9 2003.4,1317.9 2005.2,1317.9 2006.9,1317.9 2008.6,1317.9 2010.3,1317.9 2011.9,1318.0 2013.5,1318.0 2015.1,1318.0 2016.7,1318.0 2018.2,1318.0 2019.7,1318.0 2021.2,1318.0 2022.7,1318.0 2024.1,1318.0 2025.5,1318.0 2026.8,1318.0 2028.2,1318.0 2029.5,1318.0 2030.7,1318.0 2031.9,1318.0 2033.1,1318.0 2034.3,1318.0 2035.4,1318.0 2036.5,1318.0 2037.6,1318.0 2038.6,1318.0" fill="none" stroke="#ad0e0e" stroke-width="6.4" stroke-linejoin="round" stroke-linecap="butt" clip-path="url(#cBot)"/>
<path d="M223.0,1016.0 L223.7,1016.0 L224.5,1016.0 L225.4,1016.0 L226.3,1016.0 L227.2,1016.0 L228.1,1016.0 L229.1,1016.0 L230.1,1016.0 L231.1,1016.0 L232.1,1016.0 L233.2,1016.0 L234.3,1016.0 L235.4,1016.0 L236.5,1016.0 L237.6,1016.0 L238.8,1016.0 L240.0,1016.0 L241.2,1016.0 L242.4,1016.0 L243.6,1016.0 L244.9,1016.1 L246.2,1016.1 L247.5,1016.1 L248.8,1016.1 L250.1,1016.1 L251.4,1016.1 L252.8,1016.1 L253.6,1016.1 M285.7,1016.1 L286.4,1016.1 L288.0,1016.1 L289.7,1016.1 L291.3,1016.1 L293.0,1016.1 L294.7,1016.1 L296.4,1016.1 L298.1,1016.2 L299.8,1016.2 L301.5,1016.2 L303.2,1016.2 L304.9,1016.2 L306.7,1016.2 L308.4,1016.2 L310.1,1016.2 L311.9,1016.2 L313.6,1016.2 L315.3,1016.2 L316.4,1016.2 M347.9,1016.3 L348.6,1016.3 L350.3,1016.3 L352.0,1016.3 L353.7,1016.3 L355.5,1016.3 L357.2,1016.3 L358.9,1016.3 L360.6,1016.3 L362.3,1016.3 L363.9,1016.3 L365.6,1016.3 L367.3,1016.3 L369.0,1016.4 L370.6,1016.4 L372.3,1016.4 L373.9,1016.4 L375.5,1016.4 L377.1,1016.4 L378.6,1016.4 M410.7,1016.6 L411.3,1016.6 L413.0,1016.6 L414.6,1016.6 L416.2,1016.6 L417.9,1016.6 L419.5,1016.6 L421.2,1016.6 L422.8,1016.7 L424.5,1016.7 L426.2,1016.7 L427.8,1016.7 L429.5,1016.7 L431.2,1016.7 L432.9,1016.7 L434.5,1016.7 L436.2,1016.8 L437.9,1016.8 L439.6,1016.8 L441.2,1016.8 L441.4,1016.8 M472.9,1017.1 L473.0,1017.1 L474.6,1017.1 L476.3,1017.1 L477.9,1017.1 L479.6,1017.1 L481.2,1017.2 L482.8,1017.2 L484.4,1017.2 L486.1,1017.2 L487.7,1017.2 L489.3,1017.2 L490.9,1017.3 L492.5,1017.3 L494.1,1017.3 L495.6,1017.3 L497.2,1017.3 L498.8,1017.3 L500.4,1017.3 L501.9,1017.4 L503.5,1017.4 L503.6,1017.4 M535.2,1017.7 L535.2,1017.7 L536.5,1017.7 L537.8,1017.7 L539.1,1017.8 L540.4,1017.8 L541.7,1017.8 L542.9,1017.8 L544.2,1017.8 L545.4,1017.8 L546.6,1017.8 L547.8,1017.9 L549.0,1017.9 L550.2,1017.9 L551.3,1017.9 L552.5,1017.9 L553.6,1017.9 L554.7,1017.9 L555.8,1018.0 L556.9,1018.0 L557.9,1018.0 L559.0,1018.0 L560.0,1018.0 L562.8,1018.0 L565.5,1018.1 L566.7,1018.1 M598.0,1018.7 L598.1,1018.7 L599.2,1018.7 L600.2,1018.8 L601.3,1018.8 L602.3,1018.8 L603.5,1018.8 L604.6,1018.9 L605.8,1018.9 L607.0,1018.9 L608.3,1018.9 L609.7,1018.9 L611.2,1019.0 L612.7,1019.0 L614.3,1019.0 L616.0,1019.0 L617.3,1019.0 L618.7,1019.0 L620.1,1019.0 L621.4,1019.0 L622.8,1019.0 L624.2,1019.0 L625.7,1019.0 L627.1,1019.1 L628.5,1019.1 L628.6,1019.1 M660.0,1019.0 L660.8,1019.0 L662.3,1019.0 L663.9,1019.0 L665.5,1019.0 L667.1,1019.0 L668.6,1019.0 L670.2,1019.0 L671.7,1019.0 L673.3,1019.0 L674.9,1019.0 L676.4,1019.0 L677.9,1019.0 L679.5,1019.0 L681.0,1019.0 L682.5,1019.0 L684.0,1019.0 L685.5,1019.0 L687.0,1019.0 L688.5,1019.0 L690.0,1019.0 L691.6,1019.0 L693.1,1019.0 L694.7,1019.0 L696.3,1019.0 L697.8,1019.0 L699.4,1019.0 L700.9,1019.0 L702.5,1019.1 L704.1,1019.1 L705.6,1019.1 L707.2,1019.1 L708.7,1019.1 L710.3,1019.1 L711.8,1019.1 L713.4,1019.1 L714.0,1019.1 M744.7,1019.4 L745.3,1019.4 L746.8,1019.4 L748.3,1019.4 L749.8,1019.4 L751.2,1019.4 L752.7,1019.4 L754.2,1019.5 L755.6,1019.5 L757.1,1019.5 L758.6,1019.5 L760.0,1019.5 L761.6,1019.5 L763.2,1019.5 L764.7,1019.5 L766.3,1019.5 L767.8,1019.5 L769.4,1019.5 L770.9,1019.6 L772.4,1019.6 L773.9,1019.6 L775.5,1019.6 L776.9,1019.6 M806.7,1019.7 L808.1,1019.7 L809.6,1019.7 L811.0,1019.7 L812.5,1019.8 L814.0,1019.8 L815.5,1019.8 L817.0,1019.9 L818.5,1019.9 L820.0,1019.9 L821.5,1020.0 L823.0,1020.0 L824.5,1020.0 L826.0,1020.1 L827.5,1020.1 L829.1,1020.2 L830.6,1020.2 L832.1,1020.3 L833.6,1020.3 L835.1,1020.4 L836.6,1020.4 L838.2,1020.5 L839.7,1020.6 L840.0,1020.6 M872.0,1022.1 L873.3,1022.2 L874.8,1022.3 L876.3,1022.4 L877.8,1022.4 L879.4,1022.5 L880.9,1022.6 L882.4,1022.7 L884.0,1022.8 L885.5,1022.9 L887.0,1023.0 L888.5,1023.1 L890.1,1023.2 L891.6,1023.3 L893.2,1023.4 L894.7,1023.5 L896.3,1023.6 L897.9,1023.7 L899.5,1023.8 L901.0,1023.9 L902.6,1024.1 L902.7,1024.1 M934.7,1026.6 L935.5,1026.6 L937.0,1026.8 L938.5,1026.9 L939.9,1027.0 L941.4,1027.1 L942.8,1027.3 L944.2,1027.4 L945.6,1027.5 L947.0,1027.6 L948.3,1027.8 L949.7,1027.9 L951.0,1028.0 L952.8,1028.2 L954.6,1028.3 L956.4,1028.5 L958.2,1028.6 L959.9,1028.7 L961.6,1028.8 L963.3,1028.9 L964.9,1029.1 L966.6,1029.2 L966.7,1029.2 M997.3,1033.1 L998.7,1033.5 L1000.3,1034.0 L1001.8,1034.5 L1003.4,1035.1 L1004.8,1035.6 L1006.3,1036.3 L1007.7,1036.9 L1009.1,1037.5 L1010.5,1038.2 L1011.8,1038.9 L1013.2,1039.6 L1014.5,1040.4 L1015.7,1041.1 L1017.0,1041.8 L1018.3,1042.6 L1019.5,1043.3 L1020.7,1044.1 L1021.9,1044.9 L1023.2,1045.7 L1024.4,1046.4 L1025.6,1047.2 L1026.8,1047.9 L1028.0,1048.7 L1028.0,1048.7 M1053.0,1067.5 L1053.0,1067.5 L1053.9,1068.6 L1054.9,1069.7 L1055.8,1070.9 L1056.7,1072.1 L1057.5,1073.4 L1058.4,1074.6 L1059.3,1075.9 L1060.1,1077.3 L1061.0,1078.6 L1061.8,1080.0 L1062.6,1081.4 L1063.4,1082.7 L1064.2,1084.1 L1064.9,1085.6 L1065.7,1087.0 L1066.4,1088.4 L1067.1,1089.8 L1067.8,1091.2 L1068.5,1092.6 L1069.1,1094.0 L1069.8,1095.3 L1070.4,1096.7 L1071.0,1098.0 L1071.0,1098.0 M1080.0,1128.1 L1080.4,1129.5 L1080.8,1131.0 L1081.2,1132.5 L1081.5,1134.0 L1081.9,1135.5 L1082.2,1137.0 L1082.6,1138.5 L1082.9,1140.0 L1083.3,1141.5 L1083.6,1143.0 L1084.0,1144.5 L1084.3,1146.0 L1084.6,1147.5 L1085.0,1149.0 L1085.3,1150.5 L1085.6,1152.0 L1086.0,1153.5 L1086.3,1155.0 L1086.7,1156.5 L1087.0,1158.0 L1087.2,1158.8 M1094.4,1189.5 L1094.4,1189.6 L1094.8,1191.1 L1095.1,1192.7 L1095.5,1194.2 L1095.9,1195.8 L1096.3,1197.3 L1096.6,1198.8 L1097.0,1200.3 L1097.4,1201.8 L1097.8,1203.3 L1098.1,1204.8 L1098.5,1206.3 L1098.9,1207.7 L1099.3,1209.2 L1099.7,1210.7 L1100.1,1212.1 L1100.6,1213.6 L1101.0,1215.0 L1101.5,1216.5 L1101.9,1218.1 L1102.4,1219.6 L1102.5,1219.9 M1114.6,1248.9 L1115.2,1249.9 L1116.0,1251.2 L1116.8,1252.5 L1117.6,1253.8 L1118.4,1255.1 L1119.3,1256.3 L1120.2,1257.6 L1121.1,1258.8 L1122.0,1260.0 L1122.9,1261.2 L1123.9,1262.4 L1124.8,1263.5 L1125.8,1264.6 L1126.8,1265.7 L1127.8,1266.8 L1128.9,1267.9 L1129.9,1269.0 L1131.0,1270.0 L1132.1,1271.0 L1133.2,1272.1 L1134.4,1273.1 L1134.5,1273.2 M1161.2,1289.5 L1161.3,1289.5 L1162.7,1290.1 L1164.1,1290.6 L1165.5,1291.1 L1166.9,1291.6 L1168.4,1292.1 L1169.9,1292.6 L1171.4,1293.1 L1173.0,1293.5 L1174.5,1294.0 L1176.1,1294.4 L1177.6,1294.9 L1179.2,1295.3 L1180.7,1295.7 L1182.3,1296.1 L1183.9,1296.5 L1185.4,1296.9 L1187.0,1297.3 L1188.5,1297.6 L1190.0,1298.0 L1191.4,1298.3 M1222.5,1303.4 L1222.7,1303.4 L1224.0,1303.6 L1225.4,1303.8 L1226.7,1304.0 L1228.0,1304.2 L1229.4,1304.4 L1230.7,1304.5 L1232.1,1304.7 L1233.5,1304.9 L1234.9,1305.1 L1236.3,1305.3 L1237.7,1305.5 L1239.2,1305.7 L1240.7,1305.9 L1242.2,1306.0 L1243.0,1306.1 M1243.0,1306.1 L1243.8,1306.2 L1245.4,1306.4 L1247.0,1306.6 L1248.7,1306.7 L1250.5,1306.9 L1252.3,1307.1 L1254.1,1307.2 L1256.0,1307.4 L1258.0,1307.5 L1259.2,1307.6 L1260.5,1307.7 L1261.8,1307.7 L1263.1,1307.8 L1264.4,1307.9 L1265.8,1308.0 L1267.2,1308.0 L1268.6,1308.1 L1270.0,1308.2 L1271.5,1308.2 L1273.0,1308.3 L1273.0,1308.3 M1305.0,1309.5 L1306.1,1309.5 L1307.7,1309.5 L1309.2,1309.6 L1310.8,1309.7 L1312.4,1309.7 L1313.9,1309.8 L1315.5,1309.8 L1317.0,1309.9 L1318.5,1309.9 L1320.0,1310.0 L1321.5,1310.1 L1323.0,1310.1 L1324.6,1310.2 L1326.1,1310.3 L1327.6,1310.3 L1329.1,1310.4 L1330.6,1310.5 L1332.1,1310.5 L1333.6,1310.6 L1335.1,1310.7 L1336.0,1310.7 M1364.0,1311.9 L1365.0,1312.0 L1366.5,1312.0 L1368.0,1312.1 L1369.5,1312.2 L1371.0,1312.2 L1372.5,1312.3 L1374.0,1312.3 L1375.5,1312.4 L1377.0,1312.4 L1378.5,1312.5 L1380.0,1312.5 L1381.5,1312.5 L1383.0,1312.6 L1384.5,1312.6 L1386.0,1312.7 L1387.5,1312.7 L1389.0,1312.7 L1390.5,1312.8 L1392.0,1312.8 L1392.0,1312.8 M1426.0,1313.3 L1426.5,1313.3 L1428.0,1313.4 L1429.5,1313.4 L1431.0,1313.4 L1432.5,1313.4 L1434.0,1313.4 L1435.5,1313.4 L1437.0,1313.5 L1438.5,1313.5 L1440.0,1313.5 L1441.5,1313.5 L1443.0,1313.5 L1444.4,1313.6 L1445.8,1313.6 L1447.2,1313.6 L1448.6,1313.6 L1450.0,1313.6 L1451.4,1313.6 L1452.7,1313.6 L1454.1,1313.6 L1455.4,1313.7 L1456.7,1313.7 L1458.0,1313.7 M1486.0,1313.9 L1487.1,1313.9 L1488.8,1313.9 L1490.6,1313.9 L1492.4,1313.9 L1494.2,1313.9 L1496.1,1314.0 L1498.0,1314.0 L1500.0,1314.0 L1501.2,1314.0 L1502.4,1314.0 L1503.6,1314.0 L1504.8,1314.0 L1506.0,1314.1 L1507.2,1314.1 L1508.4,1314.1 L1509.6,1314.1 L1510.8,1314.1 L1512.0,1314.1 L1513.2,1314.1 L1514.4,1314.2 L1515.6,1314.2 L1516.8,1314.2 L1518.0,1314.2 L1519.0,1314.2 M1552.0,1314.6 L1553.0,1314.6 L1554.6,1314.6 L1556.2,1314.6 L1557.8,1314.6 L1559.4,1314.7 L1561.1,1314.7 L1562.7,1314.7 L1564.4,1314.7 L1566.2,1314.7 L1567.9,1314.7 L1569.7,1314.8 L1571.5,1314.8 L1573.3,1314.8 L1575.2,1314.8 L1577.1,1314.8 L1579.0,1314.8 L1580.0,1314.9 M1614.0,1315.1 L1614.2,1315.1 L1615.4,1315.1 L1616.6,1315.1 L1617.9,1315.1 L1619.2,1315.1 L1620.4,1315.1 L1621.7,1315.1 L1623.0,1315.1 L1624.3,1315.2 L1625.6,1315.2 L1626.9,1315.2 L1628.2,1315.2 L1629.5,1315.2 L1630.8,1315.2 L1632.2,1315.2 L1633.5,1315.2 L1634.9,1315.2 L1636.2,1315.2 L1637.6,1315.2 L1639.0,1315.2 L1640.3,1315.3 L1641.7,1315.3 L1643.1,1315.3 L1644.5,1315.3 L1645.0,1315.3 M1676.0,1315.5 L1676.7,1315.5 L1678.2,1315.5 L1679.7,1315.5 L1681.3,1315.5 L1682.8,1315.5 L1684.4,1315.5 L1685.9,1315.5 L1687.4,1315.5 L1689.0,1315.5 L1690.6,1315.5 L1692.1,1315.5 L1693.7,1315.5 L1695.3,1315.6 L1696.8,1315.6 L1698.4,1315.6 L1700.0,1315.6 L1701.6,1315.6 L1703.2,1315.6 L1704.7,1315.6 L1706.3,1315.6 L1707.0,1315.6 M1739.0,1315.8 L1740.4,1315.8 L1742.1,1315.8 L1743.7,1315.8 L1745.4,1315.8 L1747.0,1315.8 L1748.7,1315.8 L1750.3,1315.8 L1752.0,1315.8 L1753.6,1315.8 L1755.3,1315.8 L1756.9,1315.8 L1758.6,1315.8 L1760.2,1315.8 L1761.9,1315.9 L1763.6,1315.9 L1765.2,1315.9 L1766.9,1315.9 L1768.5,1315.9 L1770.2,1315.9 L1771.8,1315.9 L1772.0,1315.9 M1803.0,1316.0 L1804.2,1316.0 L1805.6,1316.0 L1807.0,1316.0 L1808.5,1316.0 L1809.9,1316.0 L1811.4,1316.0 L1812.9,1316.0 L1814.4,1316.0 L1815.9,1316.1 L1817.4,1316.1 L1818.9,1316.1 L1820.4,1316.1 L1822.0,1316.1 L1823.5,1316.1 L1825.1,1316.1 L1826.6,1316.1 L1828.2,1316.1 L1829.8,1316.1 L1831.4,1316.1 L1833.0,1316.1 L1834.6,1316.1 L1835.0,1316.1 M1868.0,1316.2 L1868.1,1316.2 L1869.8,1316.2 L1871.6,1316.2 L1873.3,1316.2 L1875.0,1316.2 L1876.8,1316.2 L1878.5,1316.2 L1880.3,1316.2 L1882.0,1316.2 L1883.8,1316.2 L1885.5,1316.2 L1887.3,1316.2 L1889.0,1316.2 L1890.8,1316.2 L1892.5,1316.2 L1894.3,1316.2 L1896.0,1316.2 L1897.8,1316.2 L1899.5,1316.3 L1900.0,1316.3 M1932.0,1316.3 L1932.7,1316.3 L1934.4,1316.3 L1936.1,1316.3 L1937.8,1316.3 L1939.5,1316.3 L1941.2,1316.3 L1942.9,1316.3 L1944.6,1316.3 L1946.2,1316.3 L1947.9,1316.3 L1949.6,1316.3 L1951.2,1316.3 L1952.9,1316.4 L1954.6,1316.4 L1956.2,1316.4 L1957.8,1316.4 L1959.5,1316.4 L1961.1,1316.4 L1962.7,1316.4 L1963.0,1316.4 M1993.0,1316.4 L1993.1,1316.4 L1994.5,1316.4 L1995.9,1316.4 L1997.2,1316.4 L1998.6,1316.4 L2000.0,1316.4 L2001.3,1316.4 L2002.7,1316.4 L2004.0,1316.4 L2005.3,1316.4 L2006.6,1316.4 L2007.8,1316.4 L2009.1,1316.4 L2010.4,1316.4 L2011.6,1316.5 L2012.8,1316.5 L2014.0,1316.5 L2015.2,1316.5 L2016.4,1316.5 L2017.5,1316.5 L2018.7,1316.5 L2019.8,1316.5 L2020.9,1316.5 L2022.0,1316.5 L2023.1,1316.5 L2024.0,1316.5" fill="none" stroke="#0a0aa6" stroke-width="6.4" stroke-linejoin="round" stroke-linecap="butt" clip-path="url(#cBot)"/>
<path d="M223.0,1019.0 L223.7,1019.0 L224.5,1019.0 L225.4,1019.0 L226.3,1019.0 L227.3,1019.0 L228.3,1019.0 L229.2,1019.0 L230.3,1019.0 L231.3,1019.1 L232.4,1019.1 L233.5,1019.1 L234.6,1019.1 L235.8,1019.1 L236.9,1019.1 L238.1,1019.1 L239.4,1019.1 L240.6,1019.1 L241.9,1019.1 L243.2,1019.1 L244.5,1019.1 L245.8,1019.1 L247.1,1019.1 L248.5,1019.1 L249.9,1019.1 L251.3,1019.1 L252.7,1019.1 L253.6,1019.1 M285.7,1019.3 L286.1,1019.3 L287.8,1019.3 L289.5,1019.3 L291.2,1019.3 L293.0,1019.3 L294.7,1019.3 L296.5,1019.3 L298.2,1019.3 L300.0,1019.4 L301.7,1019.4 L303.5,1019.4 L305.3,1019.4 L307.1,1019.4 L308.8,1019.4 L310.6,1019.4 L312.4,1019.4 L314.2,1019.4 L316.0,1019.4 L316.4,1019.4 M347.9,1019.6 L349.5,1019.6 L351.2,1019.6 L352.9,1019.6 L354.6,1019.6 L356.3,1019.7 L357.9,1019.7 L359.6,1019.7 L361.2,1019.7 L362.9,1019.7 L364.5,1019.7 L366.1,1019.7 L367.7,1019.7 L369.3,1019.7 L370.9,1019.8 L372.4,1019.8 L374.0,1019.8 L375.5,1019.8 L377.0,1019.8 L378.5,1019.8 L378.6,1019.8 M410.7,1020.1 L412.2,1020.1 L414.1,1020.2 L416.1,1020.2 L418.0,1020.2 L419.8,1020.2 L421.7,1020.3 L423.5,1020.3 L425.3,1020.3 L427.1,1020.3 L428.9,1020.4 L430.6,1020.4 L432.3,1020.4 L434.0,1020.4 L435.7,1020.5 L437.4,1020.5 L439.0,1020.5 L440.6,1020.6 L441.4,1020.6 M472.9,1021.2 L473.9,1021.3 L475.2,1021.3 L476.5,1021.3 L477.7,1021.4 L479.0,1021.4 L480.3,1021.4 L481.6,1021.5 L482.8,1021.5 L484.1,1021.5 L485.3,1021.6 L486.6,1021.6 L487.8,1021.6 L489.0,1021.7 L490.3,1021.7 L491.5,1021.7 L492.7,1021.8 L493.9,1021.8 L495.1,1021.9 L496.4,1021.9 L497.6,1021.9 L498.8,1022.0 L500.0,1022.0 L502.0,1022.1 L503.6,1022.1 M535.2,1023.6 L535.5,1023.6 L536.9,1023.7 L538.2,1023.8 L539.6,1023.8 L540.9,1023.9 L542.2,1024.0 L543.6,1024.1 L544.9,1024.1 L546.2,1024.2 L547.6,1024.3 L548.9,1024.4 L550.2,1024.5 L551.6,1024.5 L553.0,1024.6 L554.3,1024.7 L555.7,1024.8 L557.1,1024.8 L558.6,1024.9 L560.0,1025.0 L561.6,1025.1 L563.1,1025.2 L564.6,1025.2 L566.1,1025.3 L566.7,1025.3 M598.0,1026.9 L598.3,1026.9 L599.8,1027.0 L601.4,1027.1 L602.9,1027.2 L604.5,1027.2 L606.1,1027.3 L607.7,1027.4 L609.3,1027.5 L610.9,1027.7 L612.6,1027.8 L614.3,1027.9 L616.0,1028.0 L617.3,1028.1 L618.7,1028.2 L620.1,1028.3 L621.4,1028.4 L622.8,1028.5 L624.2,1028.6 L625.6,1028.7 L627.1,1028.8 L628.5,1028.9 L628.6,1028.9 M660.0,1031.4 L660.3,1031.4 L661.9,1031.5 L663.4,1031.7 L665.0,1031.8 L666.5,1031.9 L668.1,1032.1 L669.6,1032.2 L671.2,1032.4 L672.7,1032.5 L674.3,1032.6 L675.8,1032.8 L677.4,1032.9 L678.9,1033.1 L680.4,1033.2 L681.9,1033.4 L683.5,1033.5 L685.0,1033.7 L686.5,1033.8 L688.0,1034.0 L689.5,1034.2 L691.0,1034.3 L692.5,1034.5 L694.0,1034.6 L695.5,1034.8 L697.1,1035.0 L698.6,1035.1 L700.1,1035.3 L701.6,1035.5 L703.2,1035.6 L704.7,1035.8 L706.2,1036.0 L707.7,1036.2 L709.3,1036.3 L710.8,1036.5 L712.3,1036.7 L713.9,1036.9 L714.0,1036.9 M744.7,1040.8 L745.6,1040.9 L747.1,1041.1 L748.5,1041.3 L750.0,1041.6 L751.4,1041.8 L752.9,1042.0 L754.3,1042.2 L755.7,1042.4 L757.2,1042.6 L758.6,1042.8 L760.0,1043.0 L761.6,1043.2 L763.2,1043.5 L764.8,1043.7 L766.4,1043.9 L767.9,1044.2 L769.5,1044.4 L771.0,1044.7 L772.6,1044.9 L774.1,1045.1 L775.6,1045.4 L776.9,1045.6 M806.6,1050.7 L806.8,1050.7 L808.3,1051.0 L809.7,1051.3 L811.2,1051.6 L812.7,1051.9 L814.1,1052.1 L815.6,1052.4 L817.1,1052.7 L818.6,1053.1 L820.0,1053.4 L821.5,1053.7 L823.0,1054.0 L824.5,1054.3 L826.0,1054.6 L827.5,1055.0 L828.9,1055.3 L830.4,1055.6 L831.9,1056.0 L833.4,1056.3 L834.9,1056.6 L836.4,1057.0 L837.9,1057.3 L838.7,1057.5 M869.7,1065.5 L870.3,1065.7 L871.8,1066.1 L873.3,1066.5 L874.7,1066.9 L876.2,1067.4 L877.7,1067.8 L879.1,1068.2 L880.6,1068.7 L882.1,1069.1 L883.5,1069.5 L885.0,1070.0 L886.4,1070.4 L887.9,1070.9 L889.3,1071.4 L890.7,1071.8 L892.2,1072.3 L893.6,1072.8 L895.0,1073.2 L896.4,1073.7 L897.9,1074.2 L899.3,1074.7 L899.4,1074.7 M931.5,1086.5 L932.0,1086.7 L933.4,1087.2 L934.8,1087.8 L936.2,1088.3 L937.6,1088.8 L939.0,1089.4 L940.4,1089.9 L941.8,1090.4 L943.2,1090.9 L944.6,1091.5 L946.0,1092.0 L947.4,1092.5 L948.9,1093.1 L950.3,1093.6 L951.7,1094.1 L953.1,1094.6 L954.6,1095.2 L956.0,1095.7 L957.4,1096.2 L958.8,1096.7 L960.0,1097.2 M990.0,1108.5 L991.3,1109.0 L992.7,1109.6 L994.0,1110.2 L995.4,1110.8 L996.8,1111.3 L998.2,1111.9 L999.5,1112.5 L1000.9,1113.1 L1002.3,1113.8 L1003.6,1114.4 L1005.0,1115.0 L1006.4,1115.6 L1007.8,1116.3 L1009.1,1117.0 L1010.5,1117.6 L1011.9,1118.3 L1013.2,1119.0 L1014.6,1119.7 L1015.9,1120.4 L1017.3,1121.1 L1018.6,1121.8 L1019.9,1122.5 L1020.8,1122.9 M1048.0,1138.2 L1049.1,1138.8 L1050.4,1139.6 L1051.8,1140.4 L1053.1,1141.1 L1054.5,1141.9 L1055.9,1142.7 L1057.2,1143.5 L1058.6,1144.2 L1060.0,1145.0 L1061.3,1145.7 L1062.5,1146.4 L1063.8,1147.1 L1065.1,1147.8 L1066.4,1148.6 L1067.7,1149.3 L1069.0,1150.0 L1070.3,1150.7 L1071.6,1151.5 L1072.9,1152.2 L1074.2,1152.9 L1075.0,1153.4 M1106.5,1171.3 L1107.4,1171.7 L1108.7,1172.5 L1110.0,1173.3 L1111.3,1174.0 L1112.6,1174.8 L1113.9,1175.5 L1115.2,1176.3 L1116.4,1177.0 L1117.7,1177.8 L1119.0,1178.5 L1120.3,1179.3 L1121.7,1180.1 L1123.0,1180.8 L1124.3,1181.6 L1125.6,1182.4 L1126.9,1183.2 L1128.2,1184.0 L1129.5,1184.8 L1130.8,1185.6 L1132.1,1186.4 L1132.6,1186.7 M1160.1,1203.7 L1160.3,1203.7 L1161.5,1204.5 L1162.8,1205.3 L1164.1,1206.0 L1165.4,1206.8 L1166.7,1207.6 L1168.0,1208.3 L1169.3,1209.1 L1170.6,1209.8 L1172.0,1210.5 L1173.3,1211.3 L1174.6,1212.0 L1175.9,1212.7 L1177.3,1213.5 L1178.6,1214.2 L1179.9,1214.9 L1181.3,1215.6 L1182.6,1216.3 L1183.9,1217.1 L1185.3,1217.8 L1186.6,1218.5 L1188.0,1219.2 L1189.1,1219.8 M1218.0,1234.2 L1219.3,1234.8 L1220.6,1235.5 L1222.0,1236.1 L1223.4,1236.7 L1224.7,1237.4 L1226.1,1238.0 L1227.5,1238.6 L1228.9,1239.2 L1230.2,1239.8 L1231.6,1240.4 L1233.0,1241.0 L1234.4,1241.6 L1235.8,1242.2 L1237.2,1242.8 L1238.6,1243.4 L1240.0,1244.0 L1241.4,1244.5 L1242.8,1245.1 L1244.2,1245.7 L1245.5,1246.2 L1246.9,1246.8 L1248.0,1247.2 M1278.0,1258.2 L1279.3,1258.7 L1280.8,1259.2 L1282.3,1259.6 L1283.8,1260.1 L1285.3,1260.6 L1286.8,1261.1 L1288.3,1261.6 L1289.9,1262.0 L1291.4,1262.5 L1293.0,1263.0 L1294.4,1263.4 L1295.7,1263.8 L1297.1,1264.2 L1298.5,1264.6 L1299.8,1265.0 L1301.2,1265.4 L1302.6,1265.8 L1304.0,1266.2 L1305.4,1266.6 L1306.9,1267.0 L1308.0,1267.3 M1338.0,1275.0 L1339.3,1275.3 L1340.8,1275.6 L1342.3,1276.0 L1343.9,1276.3 L1345.4,1276.7 L1346.9,1277.0 L1348.4,1277.4 L1349.9,1277.7 L1351.4,1278.1 L1352.9,1278.4 L1354.5,1278.7 L1356.0,1279.1 L1357.5,1279.4 L1359.0,1279.7 L1360.5,1280.0 L1362.0,1280.4 L1363.5,1280.7 L1365.0,1281.0 L1366.5,1281.3 L1368.0,1281.6 L1369.4,1281.9 L1370.9,1282.2 L1372.4,1282.5 L1373.9,1282.8 L1375.5,1283.1 L1377.0,1283.4 L1378.5,1283.7 L1380.0,1284.0 L1381.5,1284.3 L1383.1,1284.6 L1384.6,1284.9 L1386.1,1285.2 L1387.7,1285.5 L1389.2,1285.7 L1390.8,1286.0 L1392.3,1286.3 L1393.0,1286.4 M1424.0,1291.6 L1424.3,1291.6 L1425.8,1291.9 L1427.2,1292.1 L1428.7,1292.3 L1430.1,1292.5 L1431.6,1292.8 L1433.0,1293.0 L1434.4,1293.2 L1435.8,1293.4 L1437.2,1293.6 L1438.6,1293.8 L1440.0,1294.0 L1441.7,1294.2 L1443.3,1294.5 L1444.9,1294.7 L1446.6,1294.9 L1448.2,1295.2 L1449.7,1295.4 L1451.3,1295.6 L1452.9,1295.8 L1454.4,1296.0 L1456.0,1296.2 L1456.0,1296.2 M1486.0,1299.5 L1487.0,1299.6 L1488.5,1299.8 L1490.0,1299.9 L1491.5,1300.1 L1492.9,1300.2 L1494.4,1300.3 L1495.9,1300.5 L1497.4,1300.6 L1498.9,1300.7 L1500.5,1300.9 L1502.0,1301.0 L1503.5,1301.1 L1505.0,1301.3 L1506.5,1301.4 L1508.0,1301.5 L1509.5,1301.6 L1511.0,1301.7 L1512.6,1301.9 L1514.1,1302.0 L1515.6,1302.1 L1517.1,1302.2 L1518.6,1302.3 L1519.0,1302.3 M1552.0,1304.3 L1552.2,1304.3 L1553.8,1304.4 L1555.3,1304.5 L1556.8,1304.5 L1558.4,1304.6 L1559.9,1304.7 L1561.4,1304.8 L1563.0,1304.8 L1564.5,1304.9 L1566.0,1305.0 L1567.5,1305.1 L1569.1,1305.2 L1570.6,1305.2 L1572.1,1305.3 L1573.6,1305.4 L1575.2,1305.5 L1576.7,1305.5 L1578.2,1305.6 L1579.8,1305.7 L1580.0,1305.7 M1614.0,1307.0 L1615.0,1307.1 L1616.6,1307.1 L1618.1,1307.2 L1619.6,1307.2 L1621.1,1307.3 L1622.6,1307.3 L1624.1,1307.3 L1625.6,1307.4 L1627.0,1307.4 L1628.5,1307.5 L1630.0,1307.5 L1631.5,1307.5 L1633.1,1307.6 L1634.6,1307.6 L1636.1,1307.6 L1637.7,1307.7 L1639.2,1307.7 L1640.7,1307.7 L1642.2,1307.7 L1643.7,1307.7 L1645.0,1307.8 M1676.0,1307.9 L1676.2,1307.9 L1677.7,1307.9 L1679.3,1307.9 L1680.8,1307.9 L1682.3,1308.0 L1683.8,1308.0 L1685.3,1308.0 L1686.9,1308.0 L1688.4,1308.0 L1690.0,1308.0 L1691.5,1308.0 L1692.9,1308.0 L1694.4,1308.0 L1695.9,1308.0 L1697.3,1308.1 L1698.8,1308.1 L1700.3,1308.1 L1701.8,1308.1 L1703.3,1308.1 L1704.8,1308.1 L1706.3,1308.1 L1707.0,1308.1 M1739.0,1308.3 L1739.8,1308.3 L1741.3,1308.4 L1742.8,1308.4 L1744.4,1308.4 L1745.9,1308.4 L1747.4,1308.4 L1748.9,1308.4 L1750.5,1308.5 L1752.0,1308.5 L1753.5,1308.5 L1755.0,1308.5 L1756.5,1308.5 L1758.0,1308.5 L1759.5,1308.6 L1761.1,1308.6 L1762.6,1308.6 L1764.1,1308.6 L1765.6,1308.6 L1767.1,1308.7 L1768.6,1308.7 L1770.1,1308.7 L1771.7,1308.7 L1772.0,1308.7 M1803.0,1309.2 L1803.4,1309.2 L1805.0,1309.3 L1806.5,1309.3 L1808.0,1309.3 L1809.5,1309.3 L1811.0,1309.4 L1812.5,1309.4 L1814.0,1309.4 L1815.5,1309.4 L1817.0,1309.5 L1818.5,1309.5 L1820.0,1309.5 L1821.5,1309.5 L1823.1,1309.5 L1824.6,1309.6 L1826.1,1309.6 L1827.7,1309.6 L1829.2,1309.6 L1830.7,1309.7 L1832.3,1309.7 L1833.8,1309.7 L1835.0,1309.7 M1868.0,1310.3 L1868.8,1310.3 L1870.3,1310.3 L1871.8,1310.3 L1873.3,1310.4 L1874.9,1310.4 L1876.4,1310.4 L1877.9,1310.4 L1879.4,1310.4 L1881.0,1310.5 L1882.5,1310.5 L1884.0,1310.5 L1885.5,1310.5 L1887.1,1310.5 L1888.6,1310.5 L1890.1,1310.6 L1891.6,1310.6 L1893.2,1310.6 L1894.7,1310.6 L1896.2,1310.6 L1897.8,1310.6 L1899.3,1310.6 L1900.0,1310.6 M1932.0,1310.8 L1933.0,1310.9 L1934.6,1310.9 L1936.1,1310.9 L1937.6,1310.9 L1939.1,1310.9 L1940.6,1310.9 L1942.1,1310.9 L1943.6,1311.0 L1945.0,1311.0 L1946.5,1311.0 L1948.0,1311.0 L1949.6,1311.0 L1951.1,1311.0 L1952.7,1311.1 L1954.3,1311.1 L1955.9,1311.1 L1957.5,1311.1 L1959.1,1311.2 L1960.7,1311.2 L1962.3,1311.2 L1963.0,1311.2 M1993.0,1311.7 L1993.7,1311.7 L1995.2,1311.8 L1996.6,1311.8 L1997.9,1311.8 L1999.3,1311.8 L2000.6,1311.9 L2001.9,1311.9 L2003.2,1311.9 L2004.5,1311.9 L2005.7,1312.0 L2006.9,1312.0 L2008.0,1312.0 L2010.2,1312.0 L2012.4,1312.1 L2014.5,1312.1 L2016.5,1312.1 L2018.4,1312.2 L2020.3,1312.2 L2022.1,1312.2 L2023.8,1312.3 L2024.0,1312.3" fill="none" stroke="#ad0e0e" stroke-width="6.4" stroke-linejoin="round" stroke-linecap="butt" clip-path="url(#cBot)"/>
<rect x="220.00" y="40.30" width="1823.40" height="3.70" fill="#4a4a4a"/>
<rect x="220.00" y="44.00" width="1820.40" height="3.20" fill="#000"/>
<rect x="220.00" y="571.00" width="1820.40" height="3.20" fill="#000"/>
<rect x="220.00" y="574.20" width="1823.40" height="3.20" fill="#505050"/>
<rect x="220.00" y="40.30" width="3.20" height="537.10" fill="#000"/>
<rect x="2037.00" y="40.30" width="3.40" height="537.10" fill="#000"/>
<rect x="2040.40" y="40.30" width="3.00" height="537.10" fill="#505050"/>
<rect x="220.00" y="824.30" width="1823.40" height="2.90" fill="#000"/>
<rect x="223.20" y="827.20" width="1813.80" height="3.40" fill="#b4b4b4"/>
<rect x="220.00" y="1351.20" width="1820.40" height="3.10" fill="#000"/>
<rect x="220.00" y="1354.30" width="1823.40" height="3.30" fill="#6a6a6a"/>
<rect x="220.00" y="824.30" width="3.20" height="533.30" fill="#000"/>
<rect x="223.20" y="830.60" width="3.40" height="520.60" fill="#c4c4c4"/>
<rect x="2037.00" y="824.30" width="3.40" height="533.30" fill="#000"/>
<rect x="2040.40" y="824.30" width="3.00" height="533.30" fill="#404040"/>
<rect x="1390.00" y="862.00" width="636.50" height="321.00" fill="#fff"/>
<rect x="1392.3" y="865.3" width="631.9" height="315.4" fill="none" stroke="#000" stroke-width="5"/>
<line x1="1422.5" y1="910.8" x2="1582.2" y2="910.8" stroke="#0a0aa6" stroke-width="8.5"/>
<line x1="1422.5" y1="985.2" x2="1582.2" y2="985.2" stroke="#ad0e0e" stroke-width="8.5"/>
<line x1="1422.5" y1="1059.6" x2="1582.2" y2="1059.6" stroke="#0a0aa6" stroke-width="8.5" stroke-dasharray="35 28"/>
<line x1="1422.5" y1="1134.2" x2="1582.2" y2="1134.2" stroke="#ad0e0e" stroke-width="8.5" stroke-dasharray="35 28"/>
<text transform="translate(188.07,634.00) scale(0.8165,0.9999)" font-family="'Liberation Serif', 'Times New Roman', serif" font-size="56.74">184</text>
<text transform="translate(188.07,1416.50) scale(0.8165,1.0000)" font-family="'Liberation Serif', 'Times New Roman', serif" font-size="56.44">184</text>
<text transform="translate(415.18,634.00) scale(0.8269,0.9999)" font-family="'Liberation Serif', 'Times New Roman', serif" font-size="56.74">185</text>
<text transform="translate(415.18,1416.50) scale(0.8269,1.0000)" font-family="'Liberation Serif', 'Times New Roman', serif" font-size="56.44">185</text>
<text transform="translate(642.34,634.00) scale(0.8269,0.9999)" font-family="'Liberation Serif', 'Times New Roman', serif" font-size="56.74">186</text>
<text transform="translate(642.34,1416.50) scale(0.8269,1.0000)" font-family="'Liberation Serif', 'Times New Roman', serif" font-size="56.44">186</text>
<text transform="translate(869.55,634.00) scale(0.8165,0.9999)" font-family="'Liberation Serif', 'Times New Roman', serif" font-size="56.74">187</text>
<text transform="translate(869.50,1416.50) scale(0.8269,1.0000)" font-family="'Liberation Serif', 'Times New Roman', serif" font-size="56.44">187</text>
<text transform="translate(1096.66,634.00) scale(0.8269,0.9999)" font-family="'Liberation Serif', 'Times New Roman', serif" font-size="56.74">188</text>
<text transform="translate(1096.66,1416.50) scale(0.8269,1.0000)" font-family="'Liberation Serif', 'Times New Roman', serif" font-size="56.44">188</text>
<text transform="translate(1323.82,634.00) scale(0.8269,0.9999)" font-family="'Liberation Serif', 'Times New Roman', serif" font-size="56.74">189</text>
<text transform="translate(1323.76,1416.50) scale(0.8377,1.0000)" font-family="'Liberation Serif', 'Times New Roman', serif" font-size="56.44">189</text>
<text transform="translate(1550.98,634.00) scale(0.8269,0.9999)" font-family="'Liberation Serif', 'Times New Roman', serif" font-size="56.74">190</text>
<text transform="translate(1550.98,1416.50) scale(0.8269,1.0000)" font-family="'Liberation Serif', 'Times New Roman', serif" font-size="56.44">190</text>
<text transform="translate(1778.08,634.00) scale(0.8377,0.9999)" font-family="'Liberation Serif', 'Times New Roman', serif" font-size="56.74">191</text>
<text transform="translate(1778.03,1416.50) scale(0.8487,1.0000)" font-family="'Liberation Serif', 'Times New Roman', serif" font-size="56.44">191</text>
<text transform="translate(2005.24,634.00) scale(0.8377,0.9999)" font-family="'Liberation Serif', 'Times New Roman', serif" font-size="56.74">192</text>
<text transform="translate(2005.24,1416.50) scale(0.8377,1.0000)" font-family="'Liberation Serif', 'Times New Roman', serif" font-size="56.44">192</text>
<text transform="translate(864.21,715.90) scale(0.8952,0.9999)" font-family="'Liberation Serif', 'Times New Roman', serif" font-size="55.71">Excitation Frequency [Hz]</text>
<text transform="translate(863.04,1503.00) scale(0.8297,1.0001)" font-family="'Liberation Serif', 'Times New Roman', serif" font-size="60.27">Excitation Frequency [Hz]</text>
<text transform="translate(73.80,511.60) rotate(-90) scale(1.0300,0.9999)" font-family="'Liberation Serif', 'Times New Roman', serif" font-size="50.55" letter-spacing="2.50">Amplitude</text>
<text transform="translate(73.80,254.60) rotate(-90) scale(1.0000,0.9999)" font-family="'Liberation Serif', 'Times New Roman', serif" font-size="50.55" letter-spacing="7.05">[m/V]</text>
<text transform="translate(56.60,1192.40) rotate(-90) scale(1.0000,0.9999)" font-family="'Liberation Serif', 'Times New Roman', serif" font-size="51.14" letter-spacing="2.46">Phase [&#176;]</text>
<text transform="translate(118.41,69.10) scale(0.8388,1.0000)" font-family="'Liberation Serif', 'Times New Roman', serif" font-size="56.44">10</text>
<text transform="translate(166.11,63.30) scale(0.8429,1.8000)" font-family="'Liberation Serif', 'Times New Roman', serif" font-size="44.65">&#8722;</text>
<text transform="translate(187.46,48.10) scale(0.8429,1.0001)" font-family="'Liberation Serif', 'Times New Roman', serif" font-size="44.65">4</text>
<text transform="translate(118.41,245.37) scale(0.8388,1.0000)" font-family="'Liberation Serif', 'Times New Roman', serif" font-size="56.44">10</text>
<text transform="translate(166.11,239.57) scale(0.8429,1.8000)" font-family="'Liberation Serif', 'Times New Roman', serif" font-size="44.65">&#8722;</text>
<text transform="translate(186.20,224.37) scale(0.7667,1.0001)" font-family="'Liberation Serif', 'Times New Roman', serif" font-size="44.65">5</text>
<text transform="translate(118.41,421.64) scale(0.8388,1.0000)" font-family="'Liberation Serif', 'Times New Roman', serif" font-size="56.44">10</text>
<text transform="translate(166.11,415.84) scale(0.8429,1.8000)" font-family="'Liberation Serif', 'Times New Roman', serif" font-size="44.65">&#8722;</text>
<text transform="translate(186.68,400.64) scale(0.9105,1.0001)" font-family="'Liberation Serif', 'Times New Roman', serif" font-size="44.65">6</text>
<text transform="translate(118.41,597.91) scale(0.8388,1.0000)" font-family="'Liberation Serif', 'Times New Roman', serif" font-size="56.44">10</text>
<text transform="translate(166.11,592.11) scale(0.8429,1.8000)" font-family="'Liberation Serif', 'Times New Roman', serif" font-size="44.65">&#8722;</text>
<text transform="translate(185.62,576.91) scale(0.7944,1.0001)" font-family="'Liberation Serif', 'Times New Roman', serif" font-size="44.65">7</text>
<text transform="translate(176.20,877.70) scale(1.0000,0.9999)" font-family="'Liberation Serif', 'Times New Roman', serif" font-size="56.74">0</text>
<text transform="translate(123.45,1030.74) scale(0.9157,0.9999)" font-family="'Liberation Serif', 'Times New Roman', serif" font-size="56.74"><tspan dy="3.5">&#8722;</tspan><tspan dy="-3.5">90</tspan></text>
<text transform="translate(99.21,1183.77) scale(0.8955,0.9999)" font-family="'Liberation Serif', 'Times New Roman', serif" font-size="56.74"><tspan dy="3.5">&#8722;</tspan><tspan dy="-3.5">180</tspan></text>
<text transform="translate(99.32,1336.81) scale(0.8946,0.9999)" font-family="'Liberation Serif', 'Times New Roman', serif" font-size="56.74"><tspan dy="3.5">&#8722;</tspan><tspan dy="-3.5">270</tspan></text>
<text transform="translate(1595.05,927.60) scale(0.8465,0.9999)" font-family="'Liberation Serif', 'Times New Roman', serif" font-size="51.14">Measurement w/o LR</text>
<text transform="translate(1595.05,1000.50) scale(0.8548,0.9999)" font-family="'Liberation Serif', 'Times New Roman', serif" font-size="50.55">Measurement with LR</text>
<text transform="translate(1593.28,1076.70) scale(0.8749,1.0001)" font-family="'Liberation Serif', 'Times New Roman', serif" font-size="49.66">Simulation w/o LR</text>
<text transform="translate(1593.27,1149.50) scale(0.8773,1.0001)" font-family="'Liberation Serif', 'Times New Roman', serif" font-size="49.66">Simulation with LR</text>
</svg></body></html>
